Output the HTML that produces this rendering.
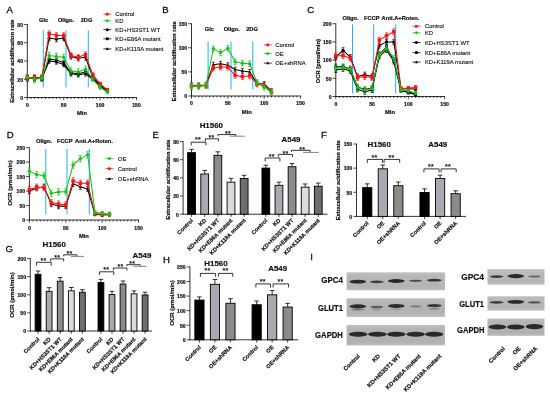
<!DOCTYPE html>
<html lang="en"><head><meta charset="utf-8"><title>Figure</title>
<style>
html,body{margin:0;padding:0;background:#fff;}
body{width:550px;height:396px;overflow:hidden;}
svg{display:block;font-family:"Liberation Sans", Arial, sans-serif;}
svg text{font-family:"Liberation Sans", Arial, sans-serif;}
svg text[font-weight=bold]{stroke:#111;stroke-width:0.2px;}
svg text.pl{stroke:#111;stroke-width:0.3px;}
svg text.lg{stroke:#111;stroke-width:0.12px;}
svg text.st{stroke-width:0.1px;letter-spacing:0.2px;}
</style></head>
<body>
<svg width="550" height="396" viewBox="0 0 550 396">
<defs><filter id="blur" x="-20%" y="-80%" width="140%" height="260%"><feGaussianBlur stdDeviation="0.75"/></filter><linearGradient id="bg" x1="0" y1="0" x2="0" y2="1"><stop offset="0" stop-color="#fff" stop-opacity="0.16"/><stop offset="0.25" stop-color="#fff" stop-opacity="0.05"/><stop offset="0.8" stop-color="#fff" stop-opacity="0"/><stop offset="1" stop-color="#fff" stop-opacity="0.15"/></linearGradient></defs>
<rect x="0" y="0" width="550" height="396" fill="#fff"/>
<text x="6.6" y="13.2" font-size="9.6" font-weight="normal" text-anchor="start" fill="#111" class="pl">A</text>
<line x1="43.3" y1="30.3" x2="43.3" y2="87.4" stroke="#22b2f0" stroke-width="1.0" />
<line x1="66" y1="30.3" x2="66" y2="87.4" stroke="#22b2f0" stroke-width="1.0" />
<line x1="88.3" y1="30.3" x2="88.3" y2="87.4" stroke="#22b2f0" stroke-width="1.0" />
<line x1="27.3" y1="24.06" x2="27.3" y2="97.9" stroke="#000" stroke-width="0.8" />
<line x1="26.9" y1="97.5" x2="136.9" y2="97.5" stroke="#000" stroke-width="0.8" />
<line x1="27.3" y1="97.5" x2="27.3" y2="100.2" stroke="#000" stroke-width="0.7" />
<line x1="30.94" y1="97.5" x2="30.94" y2="99" stroke="#000" stroke-width="0.7" />
<line x1="34.58" y1="97.5" x2="34.58" y2="99" stroke="#000" stroke-width="0.7" />
<line x1="38.22" y1="97.5" x2="38.22" y2="99" stroke="#000" stroke-width="0.7" />
<line x1="41.86" y1="97.5" x2="41.86" y2="99" stroke="#000" stroke-width="0.7" />
<line x1="45.5" y1="97.5" x2="45.5" y2="99" stroke="#000" stroke-width="0.7" />
<line x1="49.14" y1="97.5" x2="49.14" y2="99" stroke="#000" stroke-width="0.7" />
<line x1="52.78" y1="97.5" x2="52.78" y2="99" stroke="#000" stroke-width="0.7" />
<line x1="56.42" y1="97.5" x2="56.42" y2="99" stroke="#000" stroke-width="0.7" />
<line x1="60.06" y1="97.5" x2="60.06" y2="99" stroke="#000" stroke-width="0.7" />
<line x1="63.7" y1="97.5" x2="63.7" y2="100.2" stroke="#000" stroke-width="0.7" />
<line x1="67.34" y1="97.5" x2="67.34" y2="99" stroke="#000" stroke-width="0.7" />
<line x1="70.98" y1="97.5" x2="70.98" y2="99" stroke="#000" stroke-width="0.7" />
<line x1="74.62" y1="97.5" x2="74.62" y2="99" stroke="#000" stroke-width="0.7" />
<line x1="78.26" y1="97.5" x2="78.26" y2="99" stroke="#000" stroke-width="0.7" />
<line x1="81.9" y1="97.5" x2="81.9" y2="99" stroke="#000" stroke-width="0.7" />
<line x1="85.54" y1="97.5" x2="85.54" y2="99" stroke="#000" stroke-width="0.7" />
<line x1="89.18" y1="97.5" x2="89.18" y2="99" stroke="#000" stroke-width="0.7" />
<line x1="92.82" y1="97.5" x2="92.82" y2="99" stroke="#000" stroke-width="0.7" />
<line x1="96.46" y1="97.5" x2="96.46" y2="99" stroke="#000" stroke-width="0.7" />
<line x1="100.1" y1="97.5" x2="100.1" y2="100.2" stroke="#000" stroke-width="0.7" />
<line x1="103.74" y1="97.5" x2="103.74" y2="99" stroke="#000" stroke-width="0.7" />
<line x1="107.38" y1="97.5" x2="107.38" y2="99" stroke="#000" stroke-width="0.7" />
<line x1="111.02" y1="97.5" x2="111.02" y2="99" stroke="#000" stroke-width="0.7" />
<line x1="114.66" y1="97.5" x2="114.66" y2="99" stroke="#000" stroke-width="0.7" />
<line x1="118.3" y1="97.5" x2="118.3" y2="99" stroke="#000" stroke-width="0.7" />
<line x1="121.94" y1="97.5" x2="121.94" y2="99" stroke="#000" stroke-width="0.7" />
<line x1="125.58" y1="97.5" x2="125.58" y2="99" stroke="#000" stroke-width="0.7" />
<line x1="129.22" y1="97.5" x2="129.22" y2="99" stroke="#000" stroke-width="0.7" />
<line x1="132.86" y1="97.5" x2="132.86" y2="99" stroke="#000" stroke-width="0.7" />
<line x1="136.5" y1="97.5" x2="136.5" y2="100.2" stroke="#000" stroke-width="0.7" />
<text x="27.3" y="107" font-size="5.1" font-weight="bold" text-anchor="middle" fill="#111" >0</text>
<text x="63.7" y="107" font-size="5.1" font-weight="bold" text-anchor="middle" fill="#111" >50</text>
<text x="100.1" y="107" font-size="5.1" font-weight="bold" text-anchor="middle" fill="#111" >100</text>
<text x="136.5" y="107" font-size="5.1" font-weight="bold" text-anchor="middle" fill="#111" >150</text>
<line x1="23.9" y1="97.5" x2="27.3" y2="97.5" stroke="#000" stroke-width="0.7" />
<text x="23" y="99.8" font-size="5.1" font-weight="bold" text-anchor="end" fill="#111" >0</text>
<line x1="23.9" y1="79.24" x2="27.3" y2="79.24" stroke="#000" stroke-width="0.7" />
<text x="23" y="81.54" font-size="5.1" font-weight="bold" text-anchor="end" fill="#111" >20</text>
<line x1="23.9" y1="60.98" x2="27.3" y2="60.98" stroke="#000" stroke-width="0.7" />
<text x="23" y="63.28" font-size="5.1" font-weight="bold" text-anchor="end" fill="#111" >40</text>
<line x1="23.9" y1="42.72" x2="27.3" y2="42.72" stroke="#000" stroke-width="0.7" />
<text x="23" y="45.02" font-size="5.1" font-weight="bold" text-anchor="end" fill="#111" >60</text>
<line x1="23.9" y1="24.46" x2="27.3" y2="24.46" stroke="#000" stroke-width="0.7" />
<text x="23" y="26.76" font-size="5.1" font-weight="bold" text-anchor="end" fill="#111" >80</text>
<text x="82" y="115.4" font-size="5.8" font-weight="bold" text-anchor="middle" fill="#111" >Min</text>
<text x="14.1" y="61.25" font-size="5.85" font-weight="bold" text-anchor="middle" fill="#111" transform="rotate(-90 14.1 61.25)" >Extracellular acidification rate</text>
<text x="43.7" y="21.6" font-size="5.7" font-weight="bold" text-anchor="middle" fill="#111" >Glc</text>
<text x="66" y="21.6" font-size="5.7" font-weight="bold" text-anchor="middle" fill="#111" >Oligo.</text>
<text x="86.5" y="21.6" font-size="5.7" font-weight="bold" text-anchor="middle" fill="#111" >2DG</text>
<polyline points="27.3,78.33 34.58,78.33 41.86,78.33 49.14,60.98 56.42,61.89 63.7,64.63 70.98,73.76 78.26,74.67 85.54,73.76 92.82,79.24 100.1,86.54 107.38,91.11" fill="none" stroke="#000" stroke-width="1.05" stroke-linejoin="round"/>
<line x1="27.3" y1="76.04" x2="27.3" y2="80.61" stroke="#000" stroke-width="0.7" />
<line x1="25.9" y1="76.04" x2="28.7" y2="76.04" stroke="#000" stroke-width="0.7" />
<line x1="25.9" y1="80.61" x2="28.7" y2="80.61" stroke="#000" stroke-width="0.7" />
<polygon points="27.3,76.57 28.9,79.61 25.7,79.61" fill="#000"/>
<line x1="34.58" y1="76.04" x2="34.58" y2="80.61" stroke="#000" stroke-width="0.7" />
<line x1="33.18" y1="76.04" x2="35.98" y2="76.04" stroke="#000" stroke-width="0.7" />
<line x1="33.18" y1="80.61" x2="35.98" y2="80.61" stroke="#000" stroke-width="0.7" />
<polygon points="34.58,76.57 36.18,79.61 32.98,79.61" fill="#000"/>
<line x1="41.86" y1="76.04" x2="41.86" y2="80.61" stroke="#000" stroke-width="0.7" />
<line x1="40.46" y1="76.04" x2="43.26" y2="76.04" stroke="#000" stroke-width="0.7" />
<line x1="40.46" y1="80.61" x2="43.26" y2="80.61" stroke="#000" stroke-width="0.7" />
<polygon points="41.86,76.57 43.46,79.61 40.26,79.61" fill="#000"/>
<line x1="49.14" y1="58.7" x2="49.14" y2="63.26" stroke="#000" stroke-width="0.7" />
<line x1="47.74" y1="58.7" x2="50.54" y2="58.7" stroke="#000" stroke-width="0.7" />
<line x1="47.74" y1="63.26" x2="50.54" y2="63.26" stroke="#000" stroke-width="0.7" />
<polygon points="49.14,59.22 50.74,62.26 47.54,62.26" fill="#000"/>
<line x1="56.42" y1="59.61" x2="56.42" y2="64.18" stroke="#000" stroke-width="0.7" />
<line x1="55.02" y1="59.61" x2="57.82" y2="59.61" stroke="#000" stroke-width="0.7" />
<line x1="55.02" y1="64.18" x2="57.82" y2="64.18" stroke="#000" stroke-width="0.7" />
<polygon points="56.42,60.13 58.02,63.17 54.82,63.17" fill="#000"/>
<line x1="63.7" y1="62.35" x2="63.7" y2="66.91" stroke="#000" stroke-width="0.7" />
<line x1="62.3" y1="62.35" x2="65.1" y2="62.35" stroke="#000" stroke-width="0.7" />
<line x1="62.3" y1="66.91" x2="65.1" y2="66.91" stroke="#000" stroke-width="0.7" />
<polygon points="63.7,62.87 65.3,65.91 62.1,65.91" fill="#000"/>
<line x1="70.98" y1="71.48" x2="70.98" y2="76.04" stroke="#000" stroke-width="0.7" />
<line x1="69.58" y1="71.48" x2="72.38" y2="71.48" stroke="#000" stroke-width="0.7" />
<line x1="69.58" y1="76.04" x2="72.38" y2="76.04" stroke="#000" stroke-width="0.7" />
<polygon points="70.98,72 72.58,75.04 69.38,75.04" fill="#000"/>
<line x1="78.26" y1="72.39" x2="78.26" y2="76.96" stroke="#000" stroke-width="0.7" />
<line x1="76.86" y1="72.39" x2="79.66" y2="72.39" stroke="#000" stroke-width="0.7" />
<line x1="76.86" y1="76.96" x2="79.66" y2="76.96" stroke="#000" stroke-width="0.7" />
<polygon points="78.26,72.91 79.86,75.95 76.66,75.95" fill="#000"/>
<line x1="85.54" y1="71.48" x2="85.54" y2="76.04" stroke="#000" stroke-width="0.7" />
<line x1="84.14" y1="71.48" x2="86.94" y2="71.48" stroke="#000" stroke-width="0.7" />
<line x1="84.14" y1="76.04" x2="86.94" y2="76.04" stroke="#000" stroke-width="0.7" />
<polygon points="85.54,72 87.14,75.04 83.94,75.04" fill="#000"/>
<line x1="92.82" y1="77.87" x2="92.82" y2="80.61" stroke="#000" stroke-width="0.7" />
<line x1="91.42" y1="77.87" x2="94.22" y2="77.87" stroke="#000" stroke-width="0.7" />
<line x1="91.42" y1="80.61" x2="94.22" y2="80.61" stroke="#000" stroke-width="0.7" />
<polygon points="92.82,77.48 94.42,80.52 91.22,80.52" fill="#000"/>
<line x1="100.1" y1="85.17" x2="100.1" y2="87.91" stroke="#000" stroke-width="0.7" />
<line x1="98.7" y1="85.17" x2="101.5" y2="85.17" stroke="#000" stroke-width="0.7" />
<line x1="98.7" y1="87.91" x2="101.5" y2="87.91" stroke="#000" stroke-width="0.7" />
<polygon points="100.1,84.78 101.7,87.82 98.5,87.82" fill="#000"/>
<line x1="107.38" y1="89.74" x2="107.38" y2="92.48" stroke="#000" stroke-width="0.7" />
<line x1="105.98" y1="89.74" x2="108.78" y2="89.74" stroke="#000" stroke-width="0.7" />
<line x1="105.98" y1="92.48" x2="108.78" y2="92.48" stroke="#000" stroke-width="0.7" />
<polygon points="107.38,89.35 108.98,92.39 105.78,92.39" fill="#000"/>
<polyline points="27.3,78.33 34.58,78.33 41.86,78.33 49.14,59.15 56.42,60.07 63.7,62.81 70.98,72.85 78.26,73.76 85.54,71.94 92.82,78.33 100.1,85.63 107.38,91.11" fill="none" stroke="#000" stroke-width="1.05" stroke-linejoin="round"/>
<line x1="27.3" y1="76.04" x2="27.3" y2="80.61" stroke="#000" stroke-width="0.7" />
<line x1="25.9" y1="76.04" x2="28.7" y2="76.04" stroke="#000" stroke-width="0.7" />
<line x1="25.9" y1="80.61" x2="28.7" y2="80.61" stroke="#000" stroke-width="0.7" />
<rect x="25.86" y="76.89" width="2.88" height="2.88" fill="#000" stroke="none" stroke-width="0.6" />
<line x1="34.58" y1="76.04" x2="34.58" y2="80.61" stroke="#000" stroke-width="0.7" />
<line x1="33.18" y1="76.04" x2="35.98" y2="76.04" stroke="#000" stroke-width="0.7" />
<line x1="33.18" y1="80.61" x2="35.98" y2="80.61" stroke="#000" stroke-width="0.7" />
<rect x="33.14" y="76.89" width="2.88" height="2.88" fill="#000" stroke="none" stroke-width="0.6" />
<line x1="41.86" y1="76.04" x2="41.86" y2="80.61" stroke="#000" stroke-width="0.7" />
<line x1="40.46" y1="76.04" x2="43.26" y2="76.04" stroke="#000" stroke-width="0.7" />
<line x1="40.46" y1="80.61" x2="43.26" y2="80.61" stroke="#000" stroke-width="0.7" />
<rect x="40.42" y="76.89" width="2.88" height="2.88" fill="#000" stroke="none" stroke-width="0.6" />
<line x1="49.14" y1="56.87" x2="49.14" y2="61.44" stroke="#000" stroke-width="0.7" />
<line x1="47.74" y1="56.87" x2="50.54" y2="56.87" stroke="#000" stroke-width="0.7" />
<line x1="47.74" y1="61.44" x2="50.54" y2="61.44" stroke="#000" stroke-width="0.7" />
<rect x="47.7" y="57.71" width="2.88" height="2.88" fill="#000" stroke="none" stroke-width="0.6" />
<line x1="56.42" y1="57.78" x2="56.42" y2="62.35" stroke="#000" stroke-width="0.7" />
<line x1="55.02" y1="57.78" x2="57.82" y2="57.78" stroke="#000" stroke-width="0.7" />
<line x1="55.02" y1="62.35" x2="57.82" y2="62.35" stroke="#000" stroke-width="0.7" />
<rect x="54.98" y="58.63" width="2.88" height="2.88" fill="#000" stroke="none" stroke-width="0.6" />
<line x1="63.7" y1="60.52" x2="63.7" y2="65.09" stroke="#000" stroke-width="0.7" />
<line x1="62.3" y1="60.52" x2="65.1" y2="60.52" stroke="#000" stroke-width="0.7" />
<line x1="62.3" y1="65.09" x2="65.1" y2="65.09" stroke="#000" stroke-width="0.7" />
<rect x="62.26" y="61.37" width="2.88" height="2.88" fill="#000" stroke="none" stroke-width="0.6" />
<line x1="70.98" y1="70.57" x2="70.98" y2="75.13" stroke="#000" stroke-width="0.7" />
<line x1="69.58" y1="70.57" x2="72.38" y2="70.57" stroke="#000" stroke-width="0.7" />
<line x1="69.58" y1="75.13" x2="72.38" y2="75.13" stroke="#000" stroke-width="0.7" />
<rect x="69.54" y="71.41" width="2.88" height="2.88" fill="#000" stroke="none" stroke-width="0.6" />
<line x1="78.26" y1="71.48" x2="78.26" y2="76.04" stroke="#000" stroke-width="0.7" />
<line x1="76.86" y1="71.48" x2="79.66" y2="71.48" stroke="#000" stroke-width="0.7" />
<line x1="76.86" y1="76.04" x2="79.66" y2="76.04" stroke="#000" stroke-width="0.7" />
<rect x="76.82" y="72.32" width="2.88" height="2.88" fill="#000" stroke="none" stroke-width="0.6" />
<line x1="85.54" y1="69.65" x2="85.54" y2="74.22" stroke="#000" stroke-width="0.7" />
<line x1="84.14" y1="69.65" x2="86.94" y2="69.65" stroke="#000" stroke-width="0.7" />
<line x1="84.14" y1="74.22" x2="86.94" y2="74.22" stroke="#000" stroke-width="0.7" />
<rect x="84.1" y="70.5" width="2.88" height="2.88" fill="#000" stroke="none" stroke-width="0.6" />
<line x1="92.82" y1="76.96" x2="92.82" y2="79.7" stroke="#000" stroke-width="0.7" />
<line x1="91.42" y1="76.96" x2="94.22" y2="76.96" stroke="#000" stroke-width="0.7" />
<line x1="91.42" y1="79.7" x2="94.22" y2="79.7" stroke="#000" stroke-width="0.7" />
<rect x="91.38" y="76.89" width="2.88" height="2.88" fill="#000" stroke="none" stroke-width="0.6" />
<line x1="100.1" y1="84.26" x2="100.1" y2="87" stroke="#000" stroke-width="0.7" />
<line x1="98.7" y1="84.26" x2="101.5" y2="84.26" stroke="#000" stroke-width="0.7" />
<line x1="98.7" y1="87" x2="101.5" y2="87" stroke="#000" stroke-width="0.7" />
<rect x="98.66" y="84.19" width="2.88" height="2.88" fill="#000" stroke="none" stroke-width="0.6" />
<line x1="107.38" y1="89.74" x2="107.38" y2="92.48" stroke="#000" stroke-width="0.7" />
<line x1="105.98" y1="89.74" x2="108.78" y2="89.74" stroke="#000" stroke-width="0.7" />
<line x1="105.98" y1="92.48" x2="108.78" y2="92.48" stroke="#000" stroke-width="0.7" />
<rect x="105.94" y="89.67" width="2.88" height="2.88" fill="#000" stroke="none" stroke-width="0.6" />
<polyline points="27.3,78.33 34.58,78.33 41.86,78.33 49.14,38.16 56.42,39.07 63.7,38.16 70.98,56.41 78.26,58.24 85.54,57.33 92.82,77.41 100.1,84.72 107.38,90.2" fill="none" stroke="#000" stroke-width="1.05" stroke-linejoin="round"/>
<line x1="27.3" y1="75.59" x2="27.3" y2="81.07" stroke="#000" stroke-width="0.7" />
<line x1="25.9" y1="75.59" x2="28.7" y2="75.59" stroke="#000" stroke-width="0.7" />
<line x1="25.9" y1="81.07" x2="28.7" y2="81.07" stroke="#000" stroke-width="0.7" />
<circle cx="27.3" cy="78.33" r="1.6" fill="#000"/>
<line x1="34.58" y1="75.59" x2="34.58" y2="81.07" stroke="#000" stroke-width="0.7" />
<line x1="33.18" y1="75.59" x2="35.98" y2="75.59" stroke="#000" stroke-width="0.7" />
<line x1="33.18" y1="81.07" x2="35.98" y2="81.07" stroke="#000" stroke-width="0.7" />
<circle cx="34.58" cy="78.33" r="1.6" fill="#000"/>
<line x1="41.86" y1="75.59" x2="41.86" y2="81.07" stroke="#000" stroke-width="0.7" />
<line x1="40.46" y1="75.59" x2="43.26" y2="75.59" stroke="#000" stroke-width="0.7" />
<line x1="40.46" y1="81.07" x2="43.26" y2="81.07" stroke="#000" stroke-width="0.7" />
<circle cx="41.86" cy="78.33" r="1.6" fill="#000"/>
<line x1="49.14" y1="35.42" x2="49.14" y2="40.89" stroke="#000" stroke-width="0.7" />
<line x1="47.74" y1="35.42" x2="50.54" y2="35.42" stroke="#000" stroke-width="0.7" />
<line x1="47.74" y1="40.89" x2="50.54" y2="40.89" stroke="#000" stroke-width="0.7" />
<circle cx="49.14" cy="38.16" r="1.6" fill="#000"/>
<line x1="56.42" y1="36.33" x2="56.42" y2="41.81" stroke="#000" stroke-width="0.7" />
<line x1="55.02" y1="36.33" x2="57.82" y2="36.33" stroke="#000" stroke-width="0.7" />
<line x1="55.02" y1="41.81" x2="57.82" y2="41.81" stroke="#000" stroke-width="0.7" />
<circle cx="56.42" cy="39.07" r="1.6" fill="#000"/>
<line x1="63.7" y1="35.42" x2="63.7" y2="40.89" stroke="#000" stroke-width="0.7" />
<line x1="62.3" y1="35.42" x2="65.1" y2="35.42" stroke="#000" stroke-width="0.7" />
<line x1="62.3" y1="40.89" x2="65.1" y2="40.89" stroke="#000" stroke-width="0.7" />
<circle cx="63.7" cy="38.16" r="1.6" fill="#000"/>
<line x1="70.98" y1="53.68" x2="70.98" y2="59.15" stroke="#000" stroke-width="0.7" />
<line x1="69.58" y1="53.68" x2="72.38" y2="53.68" stroke="#000" stroke-width="0.7" />
<line x1="69.58" y1="59.15" x2="72.38" y2="59.15" stroke="#000" stroke-width="0.7" />
<circle cx="70.98" cy="56.41" r="1.6" fill="#000"/>
<line x1="78.26" y1="55.5" x2="78.26" y2="60.98" stroke="#000" stroke-width="0.7" />
<line x1="76.86" y1="55.5" x2="79.66" y2="55.5" stroke="#000" stroke-width="0.7" />
<line x1="76.86" y1="60.98" x2="79.66" y2="60.98" stroke="#000" stroke-width="0.7" />
<circle cx="78.26" cy="58.24" r="1.6" fill="#000"/>
<line x1="85.54" y1="54.59" x2="85.54" y2="60.07" stroke="#000" stroke-width="0.7" />
<line x1="84.14" y1="54.59" x2="86.94" y2="54.59" stroke="#000" stroke-width="0.7" />
<line x1="84.14" y1="60.07" x2="86.94" y2="60.07" stroke="#000" stroke-width="0.7" />
<circle cx="85.54" cy="57.33" r="1.6" fill="#000"/>
<line x1="92.82" y1="75.77" x2="92.82" y2="79.06" stroke="#000" stroke-width="0.7" />
<line x1="91.42" y1="75.77" x2="94.22" y2="75.77" stroke="#000" stroke-width="0.7" />
<line x1="91.42" y1="79.06" x2="94.22" y2="79.06" stroke="#000" stroke-width="0.7" />
<circle cx="92.82" cy="77.41" r="1.6" fill="#000"/>
<line x1="100.1" y1="83.07" x2="100.1" y2="86.36" stroke="#000" stroke-width="0.7" />
<line x1="98.7" y1="83.07" x2="101.5" y2="83.07" stroke="#000" stroke-width="0.7" />
<line x1="98.7" y1="86.36" x2="101.5" y2="86.36" stroke="#000" stroke-width="0.7" />
<circle cx="100.1" cy="84.72" r="1.6" fill="#000"/>
<line x1="107.38" y1="88.55" x2="107.38" y2="91.84" stroke="#000" stroke-width="0.7" />
<line x1="105.98" y1="88.55" x2="108.78" y2="88.55" stroke="#000" stroke-width="0.7" />
<line x1="105.98" y1="91.84" x2="108.78" y2="91.84" stroke="#000" stroke-width="0.7" />
<circle cx="107.38" cy="90.2" r="1.6" fill="#000"/>
<polyline points="27.3,77.41 34.58,77.41 41.86,77.41 49.14,33.59 56.42,35.42 63.7,35.42 70.98,55.5 78.26,57.33 85.54,54.59 92.82,74.67 100.1,83.81 107.38,90.2" fill="none" stroke="#ff1414" stroke-width="1.05" stroke-linejoin="round"/>
<line x1="27.3" y1="74.67" x2="27.3" y2="80.15" stroke="#ff1414" stroke-width="0.7" />
<line x1="25.9" y1="74.67" x2="28.7" y2="74.67" stroke="#ff1414" stroke-width="0.7" />
<line x1="25.9" y1="80.15" x2="28.7" y2="80.15" stroke="#ff1414" stroke-width="0.7" />
<rect x="25.55" y="75.66" width="3.51" height="3.51" fill="#ff1414" stroke="none" stroke-width="0.6" />
<line x1="34.58" y1="74.67" x2="34.58" y2="80.15" stroke="#ff1414" stroke-width="0.7" />
<line x1="33.18" y1="74.67" x2="35.98" y2="74.67" stroke="#ff1414" stroke-width="0.7" />
<line x1="33.18" y1="80.15" x2="35.98" y2="80.15" stroke="#ff1414" stroke-width="0.7" />
<rect x="32.82" y="75.66" width="3.51" height="3.51" fill="#ff1414" stroke="none" stroke-width="0.6" />
<line x1="41.86" y1="74.67" x2="41.86" y2="80.15" stroke="#ff1414" stroke-width="0.7" />
<line x1="40.46" y1="74.67" x2="43.26" y2="74.67" stroke="#ff1414" stroke-width="0.7" />
<line x1="40.46" y1="80.15" x2="43.26" y2="80.15" stroke="#ff1414" stroke-width="0.7" />
<rect x="40.1" y="75.66" width="3.51" height="3.51" fill="#ff1414" stroke="none" stroke-width="0.6" />
<line x1="49.14" y1="30.85" x2="49.14" y2="36.33" stroke="#ff1414" stroke-width="0.7" />
<line x1="47.74" y1="30.85" x2="50.54" y2="30.85" stroke="#ff1414" stroke-width="0.7" />
<line x1="47.74" y1="36.33" x2="50.54" y2="36.33" stroke="#ff1414" stroke-width="0.7" />
<rect x="47.38" y="31.83" width="3.51" height="3.51" fill="#ff1414" stroke="none" stroke-width="0.6" />
<line x1="56.42" y1="32.68" x2="56.42" y2="38.15" stroke="#ff1414" stroke-width="0.7" />
<line x1="55.02" y1="32.68" x2="57.82" y2="32.68" stroke="#ff1414" stroke-width="0.7" />
<line x1="55.02" y1="38.15" x2="57.82" y2="38.15" stroke="#ff1414" stroke-width="0.7" />
<rect x="54.66" y="33.66" width="3.51" height="3.51" fill="#ff1414" stroke="none" stroke-width="0.6" />
<line x1="63.7" y1="32.68" x2="63.7" y2="38.15" stroke="#ff1414" stroke-width="0.7" />
<line x1="62.3" y1="32.68" x2="65.1" y2="32.68" stroke="#ff1414" stroke-width="0.7" />
<line x1="62.3" y1="38.15" x2="65.1" y2="38.15" stroke="#ff1414" stroke-width="0.7" />
<rect x="61.95" y="33.66" width="3.51" height="3.51" fill="#ff1414" stroke="none" stroke-width="0.6" />
<line x1="70.98" y1="52.76" x2="70.98" y2="58.24" stroke="#ff1414" stroke-width="0.7" />
<line x1="69.58" y1="52.76" x2="72.38" y2="52.76" stroke="#ff1414" stroke-width="0.7" />
<line x1="69.58" y1="58.24" x2="72.38" y2="58.24" stroke="#ff1414" stroke-width="0.7" />
<rect x="69.23" y="53.75" width="3.51" height="3.51" fill="#ff1414" stroke="none" stroke-width="0.6" />
<line x1="78.26" y1="54.59" x2="78.26" y2="60.07" stroke="#ff1414" stroke-width="0.7" />
<line x1="76.86" y1="54.59" x2="79.66" y2="54.59" stroke="#ff1414" stroke-width="0.7" />
<line x1="76.86" y1="60.07" x2="79.66" y2="60.07" stroke="#ff1414" stroke-width="0.7" />
<rect x="76.51" y="55.57" width="3.51" height="3.51" fill="#ff1414" stroke="none" stroke-width="0.6" />
<line x1="85.54" y1="51.85" x2="85.54" y2="57.33" stroke="#ff1414" stroke-width="0.7" />
<line x1="84.14" y1="51.85" x2="86.94" y2="51.85" stroke="#ff1414" stroke-width="0.7" />
<line x1="84.14" y1="57.33" x2="86.94" y2="57.33" stroke="#ff1414" stroke-width="0.7" />
<rect x="83.78" y="52.83" width="3.51" height="3.51" fill="#ff1414" stroke="none" stroke-width="0.6" />
<line x1="92.82" y1="73.03" x2="92.82" y2="76.32" stroke="#ff1414" stroke-width="0.7" />
<line x1="91.42" y1="73.03" x2="94.22" y2="73.03" stroke="#ff1414" stroke-width="0.7" />
<line x1="91.42" y1="76.32" x2="94.22" y2="76.32" stroke="#ff1414" stroke-width="0.7" />
<rect x="91.06" y="72.92" width="3.51" height="3.51" fill="#ff1414" stroke="none" stroke-width="0.6" />
<line x1="100.1" y1="82.16" x2="100.1" y2="85.45" stroke="#ff1414" stroke-width="0.7" />
<line x1="98.7" y1="82.16" x2="101.5" y2="82.16" stroke="#ff1414" stroke-width="0.7" />
<line x1="98.7" y1="85.45" x2="101.5" y2="85.45" stroke="#ff1414" stroke-width="0.7" />
<rect x="98.34" y="82.05" width="3.51" height="3.51" fill="#ff1414" stroke="none" stroke-width="0.6" />
<line x1="107.38" y1="88.55" x2="107.38" y2="91.84" stroke="#ff1414" stroke-width="0.7" />
<line x1="105.98" y1="88.55" x2="108.78" y2="88.55" stroke="#ff1414" stroke-width="0.7" />
<line x1="105.98" y1="91.84" x2="108.78" y2="91.84" stroke="#ff1414" stroke-width="0.7" />
<rect x="105.62" y="88.44" width="3.51" height="3.51" fill="#ff1414" stroke="none" stroke-width="0.6" />
<polyline points="27.3,77.41 34.58,79.24 41.86,78.33 49.14,55.5 56.42,56.41 63.7,57.33 70.98,71.02 78.26,71.94 85.54,69.2 92.82,79.24 100.1,87.46 107.38,92.02" fill="none" stroke="#19c219" stroke-width="1.05" stroke-linejoin="round"/>
<line x1="27.3" y1="74.22" x2="27.3" y2="80.61" stroke="#19c219" stroke-width="0.7" />
<line x1="25.9" y1="74.22" x2="28.7" y2="74.22" stroke="#19c219" stroke-width="0.7" />
<line x1="25.9" y1="80.61" x2="28.7" y2="80.61" stroke="#19c219" stroke-width="0.7" />
<polygon points="27.3,75.31 29.4,77.41 27.3,79.51 25.2,77.41" fill="#19c219"/>
<line x1="34.58" y1="76.04" x2="34.58" y2="82.44" stroke="#19c219" stroke-width="0.7" />
<line x1="33.18" y1="76.04" x2="35.98" y2="76.04" stroke="#19c219" stroke-width="0.7" />
<line x1="33.18" y1="82.44" x2="35.98" y2="82.44" stroke="#19c219" stroke-width="0.7" />
<polygon points="34.58,77.14 36.68,79.24 34.58,81.34 32.48,79.24" fill="#19c219"/>
<line x1="41.86" y1="75.13" x2="41.86" y2="81.52" stroke="#19c219" stroke-width="0.7" />
<line x1="40.46" y1="75.13" x2="43.26" y2="75.13" stroke="#19c219" stroke-width="0.7" />
<line x1="40.46" y1="81.52" x2="43.26" y2="81.52" stroke="#19c219" stroke-width="0.7" />
<polygon points="41.86,76.23 43.96,78.33 41.86,80.43 39.76,78.33" fill="#19c219"/>
<line x1="49.14" y1="52.31" x2="49.14" y2="58.7" stroke="#19c219" stroke-width="0.7" />
<line x1="47.74" y1="52.31" x2="50.54" y2="52.31" stroke="#19c219" stroke-width="0.7" />
<line x1="47.74" y1="58.7" x2="50.54" y2="58.7" stroke="#19c219" stroke-width="0.7" />
<polygon points="49.14,53.4 51.24,55.5 49.14,57.6 47.04,55.5" fill="#19c219"/>
<line x1="56.42" y1="53.22" x2="56.42" y2="59.61" stroke="#19c219" stroke-width="0.7" />
<line x1="55.02" y1="53.22" x2="57.82" y2="53.22" stroke="#19c219" stroke-width="0.7" />
<line x1="55.02" y1="59.61" x2="57.82" y2="59.61" stroke="#19c219" stroke-width="0.7" />
<polygon points="56.42,54.31 58.52,56.41 56.42,58.52 54.32,56.41" fill="#19c219"/>
<line x1="63.7" y1="54.13" x2="63.7" y2="60.52" stroke="#19c219" stroke-width="0.7" />
<line x1="62.3" y1="54.13" x2="65.1" y2="54.13" stroke="#19c219" stroke-width="0.7" />
<line x1="62.3" y1="60.52" x2="65.1" y2="60.52" stroke="#19c219" stroke-width="0.7" />
<polygon points="63.7,55.23 65.8,57.33 63.7,59.43 61.6,57.33" fill="#19c219"/>
<line x1="70.98" y1="67.83" x2="70.98" y2="74.22" stroke="#19c219" stroke-width="0.7" />
<line x1="69.58" y1="67.83" x2="72.38" y2="67.83" stroke="#19c219" stroke-width="0.7" />
<line x1="69.58" y1="74.22" x2="72.38" y2="74.22" stroke="#19c219" stroke-width="0.7" />
<polygon points="70.98,68.92 73.08,71.02 70.98,73.12 68.88,71.02" fill="#19c219"/>
<line x1="78.26" y1="68.74" x2="78.26" y2="75.13" stroke="#19c219" stroke-width="0.7" />
<line x1="76.86" y1="68.74" x2="79.66" y2="68.74" stroke="#19c219" stroke-width="0.7" />
<line x1="76.86" y1="75.13" x2="79.66" y2="75.13" stroke="#19c219" stroke-width="0.7" />
<polygon points="78.26,69.84 80.36,71.94 78.26,74.04 76.16,71.94" fill="#19c219"/>
<line x1="85.54" y1="66" x2="85.54" y2="72.39" stroke="#19c219" stroke-width="0.7" />
<line x1="84.14" y1="66" x2="86.94" y2="66" stroke="#19c219" stroke-width="0.7" />
<line x1="84.14" y1="72.39" x2="86.94" y2="72.39" stroke="#19c219" stroke-width="0.7" />
<polygon points="85.54,67.1 87.64,69.2 85.54,71.3 83.44,69.2" fill="#19c219"/>
<line x1="92.82" y1="77.32" x2="92.82" y2="81.16" stroke="#19c219" stroke-width="0.7" />
<line x1="91.42" y1="77.32" x2="94.22" y2="77.32" stroke="#19c219" stroke-width="0.7" />
<line x1="91.42" y1="81.16" x2="94.22" y2="81.16" stroke="#19c219" stroke-width="0.7" />
<polygon points="92.82,77.14 94.92,79.24 92.82,81.34 90.72,79.24" fill="#19c219"/>
<line x1="100.1" y1="85.54" x2="100.1" y2="89.37" stroke="#19c219" stroke-width="0.7" />
<line x1="98.7" y1="85.54" x2="101.5" y2="85.54" stroke="#19c219" stroke-width="0.7" />
<line x1="98.7" y1="89.37" x2="101.5" y2="89.37" stroke="#19c219" stroke-width="0.7" />
<polygon points="100.1,85.36 102.2,87.46 100.1,89.56 98,87.46" fill="#19c219"/>
<line x1="107.38" y1="90.1" x2="107.38" y2="93.94" stroke="#19c219" stroke-width="0.7" />
<line x1="105.98" y1="90.1" x2="108.78" y2="90.1" stroke="#19c219" stroke-width="0.7" />
<line x1="105.98" y1="93.94" x2="108.78" y2="93.94" stroke="#19c219" stroke-width="0.7" />
<polygon points="107.38,89.92 109.48,92.02 107.38,94.12 105.28,92.02" fill="#19c219"/>
<line x1="103.4" y1="14.2" x2="111.4" y2="14.2" stroke="#ff1414" stroke-width="0.8" />
<rect x="105.95" y="12.85" width="2.7" height="2.7" fill="#ff1414" stroke="none" stroke-width="0.6" />
<text x="115.3" y="16.3" font-size="5.9" font-weight="normal" text-anchor="start" fill="#111" class="lg">Control</text>
<line x1="103.4" y1="20.8" x2="111.4" y2="20.8" stroke="#19c219" stroke-width="0.8" />
<polygon points="107.3,19 109.1,20.8 107.3,22.6 105.5,20.8" fill="#19c219"/>
<text x="115.3" y="22.9" font-size="5.9" font-weight="normal" text-anchor="start" fill="#111" class="lg">KD</text>
<line x1="103.4" y1="29.7" x2="111.4" y2="29.7" stroke="#000" stroke-width="0.8" />
<circle cx="107.3" cy="29.7" r="1.5" fill="#000"/>
<text x="115.3" y="31.8" font-size="5.9" font-weight="normal" text-anchor="start" fill="#111" class="lg">KD+HS3ST1 WT</text>
<line x1="103.4" y1="38.8" x2="111.4" y2="38.8" stroke="#000" stroke-width="0.8" />
<rect x="105.95" y="37.45" width="2.7" height="2.7" fill="#000" stroke="none" stroke-width="0.6" />
<text x="115.3" y="40.9" font-size="5.9" font-weight="normal" text-anchor="start" fill="#111" class="lg">KD+E86A mutant</text>
<line x1="103.4" y1="48.9" x2="111.4" y2="48.9" stroke="#000" stroke-width="0.8" />
<polygon points="107.3,47.25 108.8,50.1 105.8,50.1" fill="#000"/>
<text x="115.3" y="51" font-size="5.9" font-weight="normal" text-anchor="start" fill="#111" class="lg">KD+K119A mutant</text>
<text x="162.2" y="12.6" font-size="9.6" font-weight="normal" text-anchor="start" fill="#111" class="pl">B</text>
<line x1="208.1" y1="41.5" x2="208.1" y2="89.4" stroke="#22b2f0" stroke-width="1.0" />
<line x1="231" y1="41.5" x2="231" y2="89.4" stroke="#22b2f0" stroke-width="1.0" />
<line x1="252.8" y1="41.5" x2="252.8" y2="89.4" stroke="#22b2f0" stroke-width="1.0" />
<line x1="191.5" y1="23.3" x2="191.5" y2="96.4" stroke="#000" stroke-width="0.8" />
<line x1="191.1" y1="96" x2="300.95" y2="96" stroke="#000" stroke-width="0.8" />
<line x1="191.5" y1="96" x2="191.5" y2="98.7" stroke="#000" stroke-width="0.7" />
<line x1="195.13" y1="96" x2="195.13" y2="97.5" stroke="#000" stroke-width="0.7" />
<line x1="198.77" y1="96" x2="198.77" y2="97.5" stroke="#000" stroke-width="0.7" />
<line x1="202.41" y1="96" x2="202.41" y2="97.5" stroke="#000" stroke-width="0.7" />
<line x1="206.04" y1="96" x2="206.04" y2="97.5" stroke="#000" stroke-width="0.7" />
<line x1="209.68" y1="96" x2="209.68" y2="97.5" stroke="#000" stroke-width="0.7" />
<line x1="213.31" y1="96" x2="213.31" y2="97.5" stroke="#000" stroke-width="0.7" />
<line x1="216.94" y1="96" x2="216.94" y2="97.5" stroke="#000" stroke-width="0.7" />
<line x1="220.58" y1="96" x2="220.58" y2="97.5" stroke="#000" stroke-width="0.7" />
<line x1="224.22" y1="96" x2="224.22" y2="97.5" stroke="#000" stroke-width="0.7" />
<line x1="227.85" y1="96" x2="227.85" y2="98.7" stroke="#000" stroke-width="0.7" />
<line x1="231.49" y1="96" x2="231.49" y2="97.5" stroke="#000" stroke-width="0.7" />
<line x1="235.12" y1="96" x2="235.12" y2="97.5" stroke="#000" stroke-width="0.7" />
<line x1="238.75" y1="96" x2="238.75" y2="97.5" stroke="#000" stroke-width="0.7" />
<line x1="242.39" y1="96" x2="242.39" y2="97.5" stroke="#000" stroke-width="0.7" />
<line x1="246.03" y1="96" x2="246.03" y2="97.5" stroke="#000" stroke-width="0.7" />
<line x1="249.66" y1="96" x2="249.66" y2="97.5" stroke="#000" stroke-width="0.7" />
<line x1="253.3" y1="96" x2="253.3" y2="97.5" stroke="#000" stroke-width="0.7" />
<line x1="256.93" y1="96" x2="256.93" y2="97.5" stroke="#000" stroke-width="0.7" />
<line x1="260.56" y1="96" x2="260.56" y2="97.5" stroke="#000" stroke-width="0.7" />
<line x1="264.2" y1="96" x2="264.2" y2="98.7" stroke="#000" stroke-width="0.7" />
<line x1="267.83" y1="96" x2="267.83" y2="97.5" stroke="#000" stroke-width="0.7" />
<line x1="271.47" y1="96" x2="271.47" y2="97.5" stroke="#000" stroke-width="0.7" />
<line x1="275.11" y1="96" x2="275.11" y2="97.5" stroke="#000" stroke-width="0.7" />
<line x1="278.74" y1="96" x2="278.74" y2="97.5" stroke="#000" stroke-width="0.7" />
<line x1="282.38" y1="96" x2="282.38" y2="97.5" stroke="#000" stroke-width="0.7" />
<line x1="286.01" y1="96" x2="286.01" y2="97.5" stroke="#000" stroke-width="0.7" />
<line x1="289.64" y1="96" x2="289.64" y2="97.5" stroke="#000" stroke-width="0.7" />
<line x1="293.28" y1="96" x2="293.28" y2="97.5" stroke="#000" stroke-width="0.7" />
<line x1="296.91" y1="96" x2="296.91" y2="97.5" stroke="#000" stroke-width="0.7" />
<line x1="300.55" y1="96" x2="300.55" y2="98.7" stroke="#000" stroke-width="0.7" />
<text x="191.5" y="105.2" font-size="5.1" font-weight="bold" text-anchor="middle" fill="#111" >0</text>
<text x="227.85" y="105.2" font-size="5.1" font-weight="bold" text-anchor="middle" fill="#111" >50</text>
<text x="264.2" y="105.2" font-size="5.1" font-weight="bold" text-anchor="middle" fill="#111" >100</text>
<text x="300.55" y="105.2" font-size="5.1" font-weight="bold" text-anchor="middle" fill="#111" >150</text>
<line x1="188.1" y1="96" x2="191.5" y2="96" stroke="#000" stroke-width="0.7" />
<text x="187.2" y="98.3" font-size="5.1" font-weight="bold" text-anchor="end" fill="#111" >0</text>
<line x1="188.1" y1="71.9" x2="191.5" y2="71.9" stroke="#000" stroke-width="0.7" />
<text x="187.2" y="74.2" font-size="5.1" font-weight="bold" text-anchor="end" fill="#111" >50</text>
<line x1="188.1" y1="47.8" x2="191.5" y2="47.8" stroke="#000" stroke-width="0.7" />
<text x="187.2" y="50.1" font-size="5.1" font-weight="bold" text-anchor="end" fill="#111" >100</text>
<line x1="188.1" y1="23.7" x2="191.5" y2="23.7" stroke="#000" stroke-width="0.7" />
<text x="187.2" y="26" font-size="5.1" font-weight="bold" text-anchor="end" fill="#111" >150</text>
<text x="246.8" y="113.8" font-size="5.8" font-weight="bold" text-anchor="middle" fill="#111" >Min</text>
<text x="176.4" y="61.4" font-size="5.62" font-weight="bold" text-anchor="middle" fill="#111" transform="rotate(-90 176.4 61.4)" >Extracellular acidification rate</text>
<text x="209.4" y="31.4" font-size="5.7" font-weight="bold" text-anchor="middle" fill="#111" >Glc</text>
<text x="231.7" y="31.4" font-size="5.7" font-weight="bold" text-anchor="middle" fill="#111" >Oligo.</text>
<text x="252" y="31.4" font-size="5.7" font-weight="bold" text-anchor="middle" fill="#111" >2DG</text>
<polyline points="191.5,85.4 198.77,85.4 206.04,84.91 213.31,64.67 220.58,63.71 227.85,65.15 235.12,69.49 242.39,70.94 249.66,71.9 256.93,83.47 264.2,83.95 271.47,91.18" fill="none" stroke="#000" stroke-width="1.05" stroke-linejoin="round"/>
<line x1="191.5" y1="82.99" x2="191.5" y2="87.81" stroke="#000" stroke-width="0.7" />
<line x1="190.1" y1="82.99" x2="192.9" y2="82.99" stroke="#000" stroke-width="0.7" />
<line x1="190.1" y1="87.81" x2="192.9" y2="87.81" stroke="#000" stroke-width="0.7" />
<polygon points="191.5,83.64 193.1,86.68 189.9,86.68" fill="#000"/>
<line x1="198.77" y1="82.99" x2="198.77" y2="87.81" stroke="#000" stroke-width="0.7" />
<line x1="197.37" y1="82.99" x2="200.17" y2="82.99" stroke="#000" stroke-width="0.7" />
<line x1="197.37" y1="87.81" x2="200.17" y2="87.81" stroke="#000" stroke-width="0.7" />
<polygon points="198.77,83.64 200.37,86.68 197.17,86.68" fill="#000"/>
<line x1="206.04" y1="82.5" x2="206.04" y2="87.32" stroke="#000" stroke-width="0.7" />
<line x1="204.64" y1="82.5" x2="207.44" y2="82.5" stroke="#000" stroke-width="0.7" />
<line x1="204.64" y1="87.32" x2="207.44" y2="87.32" stroke="#000" stroke-width="0.7" />
<polygon points="206.04,83.15 207.64,86.19 204.44,86.19" fill="#000"/>
<line x1="213.31" y1="62.26" x2="213.31" y2="67.08" stroke="#000" stroke-width="0.7" />
<line x1="211.91" y1="62.26" x2="214.71" y2="62.26" stroke="#000" stroke-width="0.7" />
<line x1="211.91" y1="67.08" x2="214.71" y2="67.08" stroke="#000" stroke-width="0.7" />
<polygon points="213.31,62.91 214.91,65.95 211.71,65.95" fill="#000"/>
<line x1="220.58" y1="61.3" x2="220.58" y2="66.12" stroke="#000" stroke-width="0.7" />
<line x1="219.18" y1="61.3" x2="221.98" y2="61.3" stroke="#000" stroke-width="0.7" />
<line x1="219.18" y1="66.12" x2="221.98" y2="66.12" stroke="#000" stroke-width="0.7" />
<polygon points="220.58,61.95 222.18,64.99 218.98,64.99" fill="#000"/>
<line x1="227.85" y1="62.74" x2="227.85" y2="67.56" stroke="#000" stroke-width="0.7" />
<line x1="226.45" y1="62.74" x2="229.25" y2="62.74" stroke="#000" stroke-width="0.7" />
<line x1="226.45" y1="67.56" x2="229.25" y2="67.56" stroke="#000" stroke-width="0.7" />
<polygon points="227.85,63.39 229.45,66.43 226.25,66.43" fill="#000"/>
<line x1="235.12" y1="67.08" x2="235.12" y2="71.9" stroke="#000" stroke-width="0.7" />
<line x1="233.72" y1="67.08" x2="236.52" y2="67.08" stroke="#000" stroke-width="0.7" />
<line x1="233.72" y1="71.9" x2="236.52" y2="71.9" stroke="#000" stroke-width="0.7" />
<polygon points="235.12,67.73 236.72,70.77 233.52,70.77" fill="#000"/>
<line x1="242.39" y1="68.53" x2="242.39" y2="73.35" stroke="#000" stroke-width="0.7" />
<line x1="240.99" y1="68.53" x2="243.79" y2="68.53" stroke="#000" stroke-width="0.7" />
<line x1="240.99" y1="73.35" x2="243.79" y2="73.35" stroke="#000" stroke-width="0.7" />
<polygon points="242.39,69.18 243.99,72.22 240.79,72.22" fill="#000"/>
<line x1="249.66" y1="69.49" x2="249.66" y2="74.31" stroke="#000" stroke-width="0.7" />
<line x1="248.26" y1="69.49" x2="251.06" y2="69.49" stroke="#000" stroke-width="0.7" />
<line x1="248.26" y1="74.31" x2="251.06" y2="74.31" stroke="#000" stroke-width="0.7" />
<polygon points="249.66,70.14 251.26,73.18 248.06,73.18" fill="#000"/>
<line x1="256.93" y1="81.06" x2="256.93" y2="85.88" stroke="#000" stroke-width="0.7" />
<line x1="255.53" y1="81.06" x2="258.33" y2="81.06" stroke="#000" stroke-width="0.7" />
<line x1="255.53" y1="85.88" x2="258.33" y2="85.88" stroke="#000" stroke-width="0.7" />
<polygon points="256.93,81.71 258.53,84.75 255.33,84.75" fill="#000"/>
<line x1="264.2" y1="81.54" x2="264.2" y2="86.36" stroke="#000" stroke-width="0.7" />
<line x1="262.8" y1="81.54" x2="265.6" y2="81.54" stroke="#000" stroke-width="0.7" />
<line x1="262.8" y1="86.36" x2="265.6" y2="86.36" stroke="#000" stroke-width="0.7" />
<polygon points="264.2,82.19 265.8,85.23 262.6,85.23" fill="#000"/>
<line x1="271.47" y1="88.77" x2="271.47" y2="93.59" stroke="#000" stroke-width="0.7" />
<line x1="270.07" y1="88.77" x2="272.87" y2="88.77" stroke="#000" stroke-width="0.7" />
<line x1="270.07" y1="93.59" x2="272.87" y2="93.59" stroke="#000" stroke-width="0.7" />
<polygon points="271.47,89.42 273.07,92.46 269.87,92.46" fill="#000"/>
<polyline points="191.5,85.88 198.77,85.88 206.04,85.4 213.31,68.04 220.58,67.08 227.85,67.08 235.12,75.27 242.39,76.72 249.66,75.76 256.93,83.95 264.2,85.4 271.47,92.14" fill="none" stroke="#ff1414" stroke-width="1.05" stroke-linejoin="round"/>
<line x1="191.5" y1="82.99" x2="191.5" y2="88.77" stroke="#ff1414" stroke-width="0.7" />
<line x1="190.1" y1="82.99" x2="192.9" y2="82.99" stroke="#ff1414" stroke-width="0.7" />
<line x1="190.1" y1="88.77" x2="192.9" y2="88.77" stroke="#ff1414" stroke-width="0.7" />
<rect x="189.75" y="84.12" width="3.51" height="3.51" fill="#ff1414" stroke="none" stroke-width="0.6" />
<line x1="198.77" y1="82.99" x2="198.77" y2="88.77" stroke="#ff1414" stroke-width="0.7" />
<line x1="197.37" y1="82.99" x2="200.17" y2="82.99" stroke="#ff1414" stroke-width="0.7" />
<line x1="197.37" y1="88.77" x2="200.17" y2="88.77" stroke="#ff1414" stroke-width="0.7" />
<rect x="197.02" y="84.12" width="3.51" height="3.51" fill="#ff1414" stroke="none" stroke-width="0.6" />
<line x1="206.04" y1="82.5" x2="206.04" y2="88.29" stroke="#ff1414" stroke-width="0.7" />
<line x1="204.64" y1="82.5" x2="207.44" y2="82.5" stroke="#ff1414" stroke-width="0.7" />
<line x1="204.64" y1="88.29" x2="207.44" y2="88.29" stroke="#ff1414" stroke-width="0.7" />
<rect x="204.28" y="83.64" width="3.51" height="3.51" fill="#ff1414" stroke="none" stroke-width="0.6" />
<line x1="213.31" y1="65.15" x2="213.31" y2="70.94" stroke="#ff1414" stroke-width="0.7" />
<line x1="211.91" y1="65.15" x2="214.71" y2="65.15" stroke="#ff1414" stroke-width="0.7" />
<line x1="211.91" y1="70.94" x2="214.71" y2="70.94" stroke="#ff1414" stroke-width="0.7" />
<rect x="211.56" y="66.29" width="3.51" height="3.51" fill="#ff1414" stroke="none" stroke-width="0.6" />
<line x1="220.58" y1="64.19" x2="220.58" y2="69.97" stroke="#ff1414" stroke-width="0.7" />
<line x1="219.18" y1="64.19" x2="221.98" y2="64.19" stroke="#ff1414" stroke-width="0.7" />
<line x1="219.18" y1="69.97" x2="221.98" y2="69.97" stroke="#ff1414" stroke-width="0.7" />
<rect x="218.82" y="65.33" width="3.51" height="3.51" fill="#ff1414" stroke="none" stroke-width="0.6" />
<line x1="227.85" y1="64.19" x2="227.85" y2="69.97" stroke="#ff1414" stroke-width="0.7" />
<line x1="226.45" y1="64.19" x2="229.25" y2="64.19" stroke="#ff1414" stroke-width="0.7" />
<line x1="226.45" y1="69.97" x2="229.25" y2="69.97" stroke="#ff1414" stroke-width="0.7" />
<rect x="226.09" y="65.33" width="3.51" height="3.51" fill="#ff1414" stroke="none" stroke-width="0.6" />
<line x1="235.12" y1="72.38" x2="235.12" y2="78.17" stroke="#ff1414" stroke-width="0.7" />
<line x1="233.72" y1="72.38" x2="236.52" y2="72.38" stroke="#ff1414" stroke-width="0.7" />
<line x1="233.72" y1="78.17" x2="236.52" y2="78.17" stroke="#ff1414" stroke-width="0.7" />
<rect x="233.37" y="73.52" width="3.51" height="3.51" fill="#ff1414" stroke="none" stroke-width="0.6" />
<line x1="242.39" y1="73.83" x2="242.39" y2="79.61" stroke="#ff1414" stroke-width="0.7" />
<line x1="240.99" y1="73.83" x2="243.79" y2="73.83" stroke="#ff1414" stroke-width="0.7" />
<line x1="240.99" y1="79.61" x2="243.79" y2="79.61" stroke="#ff1414" stroke-width="0.7" />
<rect x="240.63" y="74.97" width="3.51" height="3.51" fill="#ff1414" stroke="none" stroke-width="0.6" />
<line x1="249.66" y1="72.86" x2="249.66" y2="78.65" stroke="#ff1414" stroke-width="0.7" />
<line x1="248.26" y1="72.86" x2="251.06" y2="72.86" stroke="#ff1414" stroke-width="0.7" />
<line x1="248.26" y1="78.65" x2="251.06" y2="78.65" stroke="#ff1414" stroke-width="0.7" />
<rect x="247.91" y="74" width="3.51" height="3.51" fill="#ff1414" stroke="none" stroke-width="0.6" />
<line x1="256.93" y1="81.06" x2="256.93" y2="86.84" stroke="#ff1414" stroke-width="0.7" />
<line x1="255.53" y1="81.06" x2="258.33" y2="81.06" stroke="#ff1414" stroke-width="0.7" />
<line x1="255.53" y1="86.84" x2="258.33" y2="86.84" stroke="#ff1414" stroke-width="0.7" />
<rect x="255.18" y="82.2" width="3.51" height="3.51" fill="#ff1414" stroke="none" stroke-width="0.6" />
<line x1="264.2" y1="82.5" x2="264.2" y2="88.29" stroke="#ff1414" stroke-width="0.7" />
<line x1="262.8" y1="82.5" x2="265.6" y2="82.5" stroke="#ff1414" stroke-width="0.7" />
<line x1="262.8" y1="88.29" x2="265.6" y2="88.29" stroke="#ff1414" stroke-width="0.7" />
<rect x="262.44" y="83.64" width="3.51" height="3.51" fill="#ff1414" stroke="none" stroke-width="0.6" />
<line x1="271.47" y1="89.25" x2="271.47" y2="95.04" stroke="#ff1414" stroke-width="0.7" />
<line x1="270.07" y1="89.25" x2="272.87" y2="89.25" stroke="#ff1414" stroke-width="0.7" />
<line x1="270.07" y1="95.04" x2="272.87" y2="95.04" stroke="#ff1414" stroke-width="0.7" />
<rect x="269.72" y="90.39" width="3.51" height="3.51" fill="#ff1414" stroke="none" stroke-width="0.6" />
<polyline points="191.5,86.36 198.77,86.36 206.04,85.4 213.31,48.76 220.58,52.62 227.85,48.28 235.12,61.78 242.39,63.22 249.66,63.71 256.93,82.5 264.2,87.32 271.47,92.14" fill="none" stroke="#19c219" stroke-width="1.05" stroke-linejoin="round"/>
<line x1="191.5" y1="83.47" x2="191.5" y2="89.25" stroke="#19c219" stroke-width="0.7" />
<line x1="190.1" y1="83.47" x2="192.9" y2="83.47" stroke="#19c219" stroke-width="0.7" />
<line x1="190.1" y1="89.25" x2="192.9" y2="89.25" stroke="#19c219" stroke-width="0.7" />
<circle cx="191.5" cy="86.36" r="1.75" fill="#19c219"/>
<line x1="198.77" y1="83.47" x2="198.77" y2="89.25" stroke="#19c219" stroke-width="0.7" />
<line x1="197.37" y1="83.47" x2="200.17" y2="83.47" stroke="#19c219" stroke-width="0.7" />
<line x1="197.37" y1="89.25" x2="200.17" y2="89.25" stroke="#19c219" stroke-width="0.7" />
<circle cx="198.77" cy="86.36" r="1.75" fill="#19c219"/>
<line x1="206.04" y1="82.5" x2="206.04" y2="88.29" stroke="#19c219" stroke-width="0.7" />
<line x1="204.64" y1="82.5" x2="207.44" y2="82.5" stroke="#19c219" stroke-width="0.7" />
<line x1="204.64" y1="88.29" x2="207.44" y2="88.29" stroke="#19c219" stroke-width="0.7" />
<circle cx="206.04" cy="85.4" r="1.75" fill="#19c219"/>
<line x1="213.31" y1="45.87" x2="213.31" y2="51.66" stroke="#19c219" stroke-width="0.7" />
<line x1="211.91" y1="45.87" x2="214.71" y2="45.87" stroke="#19c219" stroke-width="0.7" />
<line x1="211.91" y1="51.66" x2="214.71" y2="51.66" stroke="#19c219" stroke-width="0.7" />
<circle cx="213.31" cy="48.76" r="1.75" fill="#19c219"/>
<line x1="220.58" y1="49.73" x2="220.58" y2="55.51" stroke="#19c219" stroke-width="0.7" />
<line x1="219.18" y1="49.73" x2="221.98" y2="49.73" stroke="#19c219" stroke-width="0.7" />
<line x1="219.18" y1="55.51" x2="221.98" y2="55.51" stroke="#19c219" stroke-width="0.7" />
<circle cx="220.58" cy="52.62" r="1.75" fill="#19c219"/>
<line x1="227.85" y1="45.39" x2="227.85" y2="51.17" stroke="#19c219" stroke-width="0.7" />
<line x1="226.45" y1="45.39" x2="229.25" y2="45.39" stroke="#19c219" stroke-width="0.7" />
<line x1="226.45" y1="51.17" x2="229.25" y2="51.17" stroke="#19c219" stroke-width="0.7" />
<circle cx="227.85" cy="48.28" r="1.75" fill="#19c219"/>
<line x1="235.12" y1="58.89" x2="235.12" y2="64.67" stroke="#19c219" stroke-width="0.7" />
<line x1="233.72" y1="58.89" x2="236.52" y2="58.89" stroke="#19c219" stroke-width="0.7" />
<line x1="233.72" y1="64.67" x2="236.52" y2="64.67" stroke="#19c219" stroke-width="0.7" />
<circle cx="235.12" cy="61.78" r="1.75" fill="#19c219"/>
<line x1="242.39" y1="60.33" x2="242.39" y2="66.12" stroke="#19c219" stroke-width="0.7" />
<line x1="240.99" y1="60.33" x2="243.79" y2="60.33" stroke="#19c219" stroke-width="0.7" />
<line x1="240.99" y1="66.12" x2="243.79" y2="66.12" stroke="#19c219" stroke-width="0.7" />
<circle cx="242.39" cy="63.22" r="1.75" fill="#19c219"/>
<line x1="249.66" y1="60.81" x2="249.66" y2="66.6" stroke="#19c219" stroke-width="0.7" />
<line x1="248.26" y1="60.81" x2="251.06" y2="60.81" stroke="#19c219" stroke-width="0.7" />
<line x1="248.26" y1="66.6" x2="251.06" y2="66.6" stroke="#19c219" stroke-width="0.7" />
<circle cx="249.66" cy="63.71" r="1.75" fill="#19c219"/>
<line x1="256.93" y1="79.61" x2="256.93" y2="85.4" stroke="#19c219" stroke-width="0.7" />
<line x1="255.53" y1="79.61" x2="258.33" y2="79.61" stroke="#19c219" stroke-width="0.7" />
<line x1="255.53" y1="85.4" x2="258.33" y2="85.4" stroke="#19c219" stroke-width="0.7" />
<circle cx="256.93" cy="82.5" r="1.75" fill="#19c219"/>
<line x1="264.2" y1="84.43" x2="264.2" y2="90.22" stroke="#19c219" stroke-width="0.7" />
<line x1="262.8" y1="84.43" x2="265.6" y2="84.43" stroke="#19c219" stroke-width="0.7" />
<line x1="262.8" y1="90.22" x2="265.6" y2="90.22" stroke="#19c219" stroke-width="0.7" />
<circle cx="264.2" cy="87.32" r="1.75" fill="#19c219"/>
<line x1="271.47" y1="89.25" x2="271.47" y2="95.04" stroke="#19c219" stroke-width="0.7" />
<line x1="270.07" y1="89.25" x2="272.87" y2="89.25" stroke="#19c219" stroke-width="0.7" />
<line x1="270.07" y1="95.04" x2="272.87" y2="95.04" stroke="#19c219" stroke-width="0.7" />
<circle cx="271.47" cy="92.14" r="1.75" fill="#19c219"/>
<line x1="263.8" y1="44.9" x2="271.8" y2="44.9" stroke="#ff1414" stroke-width="0.8" />
<rect x="266.35" y="43.55" width="2.7" height="2.7" fill="#ff1414" stroke="none" stroke-width="0.6" />
<text x="275.2" y="47" font-size="5.9" font-weight="normal" text-anchor="start" fill="#111" class="lg">Control</text>
<line x1="263.8" y1="53.6" x2="271.8" y2="53.6" stroke="#19c219" stroke-width="0.8" />
<circle cx="267.7" cy="53.6" r="1.5" fill="#19c219"/>
<text x="275.2" y="55.7" font-size="5.9" font-weight="normal" text-anchor="start" fill="#111" class="lg">OE</text>
<line x1="263.8" y1="63.1" x2="271.8" y2="63.1" stroke="#000" stroke-width="0.8" />
<polygon points="267.7,61.45 269.2,64.3 266.2,64.3" fill="#000"/>
<text x="275.2" y="65.2" font-size="5.9" font-weight="normal" text-anchor="start" fill="#111" class="lg">OE+shRNA</text>
<text x="307.3" y="12.8" font-size="9.6" font-weight="normal" text-anchor="start" fill="#111" class="pl">C</text>
<line x1="352.5" y1="24.3" x2="352.5" y2="93.5" stroke="#22b2f0" stroke-width="1.0" />
<line x1="373.7" y1="24.3" x2="373.7" y2="93.5" stroke="#22b2f0" stroke-width="1.0" />
<line x1="395.7" y1="24.3" x2="395.7" y2="93.5" stroke="#22b2f0" stroke-width="1.0" />
<line x1="335.8" y1="23.3" x2="335.8" y2="96.9" stroke="#000" stroke-width="0.8" />
<line x1="335.4" y1="96.5" x2="444.95" y2="96.5" stroke="#000" stroke-width="0.8" />
<line x1="335.8" y1="96.5" x2="335.8" y2="99.2" stroke="#000" stroke-width="0.7" />
<line x1="339.43" y1="96.5" x2="339.43" y2="98" stroke="#000" stroke-width="0.7" />
<line x1="343.05" y1="96.5" x2="343.05" y2="98" stroke="#000" stroke-width="0.7" />
<line x1="346.68" y1="96.5" x2="346.68" y2="98" stroke="#000" stroke-width="0.7" />
<line x1="350.3" y1="96.5" x2="350.3" y2="98" stroke="#000" stroke-width="0.7" />
<line x1="353.93" y1="96.5" x2="353.93" y2="98" stroke="#000" stroke-width="0.7" />
<line x1="357.55" y1="96.5" x2="357.55" y2="98" stroke="#000" stroke-width="0.7" />
<line x1="361.18" y1="96.5" x2="361.18" y2="98" stroke="#000" stroke-width="0.7" />
<line x1="364.8" y1="96.5" x2="364.8" y2="98" stroke="#000" stroke-width="0.7" />
<line x1="368.43" y1="96.5" x2="368.43" y2="98" stroke="#000" stroke-width="0.7" />
<line x1="372.05" y1="96.5" x2="372.05" y2="99.2" stroke="#000" stroke-width="0.7" />
<line x1="375.68" y1="96.5" x2="375.68" y2="98" stroke="#000" stroke-width="0.7" />
<line x1="379.3" y1="96.5" x2="379.3" y2="98" stroke="#000" stroke-width="0.7" />
<line x1="382.93" y1="96.5" x2="382.93" y2="98" stroke="#000" stroke-width="0.7" />
<line x1="386.55" y1="96.5" x2="386.55" y2="98" stroke="#000" stroke-width="0.7" />
<line x1="390.18" y1="96.5" x2="390.18" y2="98" stroke="#000" stroke-width="0.7" />
<line x1="393.8" y1="96.5" x2="393.8" y2="98" stroke="#000" stroke-width="0.7" />
<line x1="397.43" y1="96.5" x2="397.43" y2="98" stroke="#000" stroke-width="0.7" />
<line x1="401.05" y1="96.5" x2="401.05" y2="98" stroke="#000" stroke-width="0.7" />
<line x1="404.68" y1="96.5" x2="404.68" y2="98" stroke="#000" stroke-width="0.7" />
<line x1="408.3" y1="96.5" x2="408.3" y2="99.2" stroke="#000" stroke-width="0.7" />
<line x1="411.93" y1="96.5" x2="411.93" y2="98" stroke="#000" stroke-width="0.7" />
<line x1="415.55" y1="96.5" x2="415.55" y2="98" stroke="#000" stroke-width="0.7" />
<line x1="419.18" y1="96.5" x2="419.18" y2="98" stroke="#000" stroke-width="0.7" />
<line x1="422.8" y1="96.5" x2="422.8" y2="98" stroke="#000" stroke-width="0.7" />
<line x1="426.43" y1="96.5" x2="426.43" y2="98" stroke="#000" stroke-width="0.7" />
<line x1="430.05" y1="96.5" x2="430.05" y2="98" stroke="#000" stroke-width="0.7" />
<line x1="433.68" y1="96.5" x2="433.68" y2="98" stroke="#000" stroke-width="0.7" />
<line x1="437.3" y1="96.5" x2="437.3" y2="98" stroke="#000" stroke-width="0.7" />
<line x1="440.93" y1="96.5" x2="440.93" y2="98" stroke="#000" stroke-width="0.7" />
<line x1="444.55" y1="96.5" x2="444.55" y2="99.2" stroke="#000" stroke-width="0.7" />
<text x="335.8" y="106" font-size="5.1" font-weight="bold" text-anchor="middle" fill="#111" >0</text>
<text x="372.05" y="106" font-size="5.1" font-weight="bold" text-anchor="middle" fill="#111" >50</text>
<text x="408.3" y="106" font-size="5.1" font-weight="bold" text-anchor="middle" fill="#111" >100</text>
<text x="444.55" y="106" font-size="5.1" font-weight="bold" text-anchor="middle" fill="#111" >150</text>
<line x1="332.4" y1="96.5" x2="335.8" y2="96.5" stroke="#000" stroke-width="0.7" />
<text x="331.5" y="98.8" font-size="5.1" font-weight="bold" text-anchor="end" fill="#111" >0</text>
<line x1="332.4" y1="78.3" x2="335.8" y2="78.3" stroke="#000" stroke-width="0.7" />
<text x="331.5" y="80.6" font-size="5.1" font-weight="bold" text-anchor="end" fill="#111" >50</text>
<line x1="332.4" y1="60.1" x2="335.8" y2="60.1" stroke="#000" stroke-width="0.7" />
<text x="331.5" y="62.4" font-size="5.1" font-weight="bold" text-anchor="end" fill="#111" >100</text>
<line x1="332.4" y1="41.9" x2="335.8" y2="41.9" stroke="#000" stroke-width="0.7" />
<text x="331.5" y="44.2" font-size="5.1" font-weight="bold" text-anchor="end" fill="#111" >150</text>
<line x1="332.4" y1="23.7" x2="335.8" y2="23.7" stroke="#000" stroke-width="0.7" />
<text x="331.5" y="26" font-size="5.1" font-weight="bold" text-anchor="end" fill="#111" >200</text>
<text x="390" y="114.4" font-size="5.8" font-weight="bold" text-anchor="middle" fill="#111" >Min</text>
<text x="320.2" y="61.1" font-size="5.8" font-weight="bold" text-anchor="middle" fill="#111" transform="rotate(-90 320.2 61.1)" >OCR (pmol/min)</text>
<text x="350.6" y="19.7" font-size="5.7" font-weight="bold" text-anchor="middle" fill="#111" >Oligo.</text>
<text x="371.8" y="19.7" font-size="5.7" font-weight="bold" text-anchor="middle" fill="#111" >FCCP</text>
<text x="400.5" y="19.7" font-size="5.7" font-weight="bold" text-anchor="middle" fill="#111" >Anti.A+Roten.</text>
<polyline points="335.8,69.93 343.05,68.84 350.3,71.02 357.55,89.22 364.8,91.77 372.05,89.95 379.3,56.46 386.55,49.91 393.8,61.56 401.05,90.68 408.3,92.5 415.55,94.68" fill="none" stroke="#000" stroke-width="1.05" stroke-linejoin="round"/>
<line x1="335.8" y1="67.38" x2="335.8" y2="72.48" stroke="#000" stroke-width="0.7" />
<line x1="334.4" y1="67.38" x2="337.2" y2="67.38" stroke="#000" stroke-width="0.7" />
<line x1="334.4" y1="72.48" x2="337.2" y2="72.48" stroke="#000" stroke-width="0.7" />
<polygon points="335.8,68.17 337.4,71.21 334.2,71.21" fill="#000"/>
<line x1="343.05" y1="66.29" x2="343.05" y2="71.38" stroke="#000" stroke-width="0.7" />
<line x1="341.65" y1="66.29" x2="344.45" y2="66.29" stroke="#000" stroke-width="0.7" />
<line x1="341.65" y1="71.38" x2="344.45" y2="71.38" stroke="#000" stroke-width="0.7" />
<polygon points="343.05,67.08 344.65,70.12 341.45,70.12" fill="#000"/>
<line x1="350.3" y1="68.47" x2="350.3" y2="73.57" stroke="#000" stroke-width="0.7" />
<line x1="348.9" y1="68.47" x2="351.7" y2="68.47" stroke="#000" stroke-width="0.7" />
<line x1="348.9" y1="73.57" x2="351.7" y2="73.57" stroke="#000" stroke-width="0.7" />
<polygon points="350.3,69.26 351.9,72.3 348.7,72.3" fill="#000"/>
<line x1="357.55" y1="86.67" x2="357.55" y2="91.77" stroke="#000" stroke-width="0.7" />
<line x1="356.15" y1="86.67" x2="358.95" y2="86.67" stroke="#000" stroke-width="0.7" />
<line x1="356.15" y1="91.77" x2="358.95" y2="91.77" stroke="#000" stroke-width="0.7" />
<polygon points="357.55,87.46 359.15,90.5 355.95,90.5" fill="#000"/>
<line x1="364.8" y1="89.22" x2="364.8" y2="94.32" stroke="#000" stroke-width="0.7" />
<line x1="363.4" y1="89.22" x2="366.2" y2="89.22" stroke="#000" stroke-width="0.7" />
<line x1="363.4" y1="94.32" x2="366.2" y2="94.32" stroke="#000" stroke-width="0.7" />
<polygon points="364.8,90.01 366.4,93.05 363.2,93.05" fill="#000"/>
<line x1="372.05" y1="87.4" x2="372.05" y2="92.5" stroke="#000" stroke-width="0.7" />
<line x1="370.65" y1="87.4" x2="373.45" y2="87.4" stroke="#000" stroke-width="0.7" />
<line x1="370.65" y1="92.5" x2="373.45" y2="92.5" stroke="#000" stroke-width="0.7" />
<polygon points="372.05,88.19 373.65,91.23 370.45,91.23" fill="#000"/>
<line x1="379.3" y1="53.91" x2="379.3" y2="59.01" stroke="#000" stroke-width="0.7" />
<line x1="377.9" y1="53.91" x2="380.7" y2="53.91" stroke="#000" stroke-width="0.7" />
<line x1="377.9" y1="59.01" x2="380.7" y2="59.01" stroke="#000" stroke-width="0.7" />
<polygon points="379.3,54.7 380.9,57.74 377.7,57.74" fill="#000"/>
<line x1="386.55" y1="47.36" x2="386.55" y2="52.46" stroke="#000" stroke-width="0.7" />
<line x1="385.15" y1="47.36" x2="387.95" y2="47.36" stroke="#000" stroke-width="0.7" />
<line x1="385.15" y1="52.46" x2="387.95" y2="52.46" stroke="#000" stroke-width="0.7" />
<polygon points="386.55,48.15 388.15,51.19 384.95,51.19" fill="#000"/>
<line x1="393.8" y1="59.01" x2="393.8" y2="64.1" stroke="#000" stroke-width="0.7" />
<line x1="392.4" y1="59.01" x2="395.2" y2="59.01" stroke="#000" stroke-width="0.7" />
<line x1="392.4" y1="64.1" x2="395.2" y2="64.1" stroke="#000" stroke-width="0.7" />
<polygon points="393.8,59.8 395.4,62.84 392.2,62.84" fill="#000"/>
<line x1="401.05" y1="89.15" x2="401.05" y2="92.2" stroke="#000" stroke-width="0.7" />
<line x1="399.65" y1="89.15" x2="402.45" y2="89.15" stroke="#000" stroke-width="0.7" />
<line x1="399.65" y1="92.2" x2="402.45" y2="92.2" stroke="#000" stroke-width="0.7" />
<polygon points="401.05,88.92 402.65,91.96 399.45,91.96" fill="#000"/>
<line x1="408.3" y1="90.97" x2="408.3" y2="94.02" stroke="#000" stroke-width="0.7" />
<line x1="406.9" y1="90.97" x2="409.7" y2="90.97" stroke="#000" stroke-width="0.7" />
<line x1="406.9" y1="94.02" x2="409.7" y2="94.02" stroke="#000" stroke-width="0.7" />
<polygon points="408.3,90.74 409.9,93.78 406.7,93.78" fill="#000"/>
<line x1="415.55" y1="93.15" x2="415.55" y2="96.21" stroke="#000" stroke-width="0.7" />
<line x1="414.15" y1="93.15" x2="416.95" y2="93.15" stroke="#000" stroke-width="0.7" />
<line x1="414.15" y1="96.21" x2="416.95" y2="96.21" stroke="#000" stroke-width="0.7" />
<polygon points="415.55,92.92 417.15,95.96 413.95,95.96" fill="#000"/>
<polyline points="335.8,66.65 343.05,66.65 350.3,68.84 357.55,87.04 364.8,89.58 372.05,88.13 379.3,54.28 386.55,47 393.8,60.1 401.05,90.31 408.3,92.13 415.55,93.95" fill="none" stroke="#000" stroke-width="1.05" stroke-linejoin="round"/>
<line x1="335.8" y1="64.1" x2="335.8" y2="69.2" stroke="#000" stroke-width="0.7" />
<line x1="334.4" y1="64.1" x2="337.2" y2="64.1" stroke="#000" stroke-width="0.7" />
<line x1="334.4" y1="69.2" x2="337.2" y2="69.2" stroke="#000" stroke-width="0.7" />
<rect x="334.36" y="65.21" width="2.88" height="2.88" fill="#000" stroke="none" stroke-width="0.6" />
<line x1="343.05" y1="64.1" x2="343.05" y2="69.2" stroke="#000" stroke-width="0.7" />
<line x1="341.65" y1="64.1" x2="344.45" y2="64.1" stroke="#000" stroke-width="0.7" />
<line x1="341.65" y1="69.2" x2="344.45" y2="69.2" stroke="#000" stroke-width="0.7" />
<rect x="341.61" y="65.21" width="2.88" height="2.88" fill="#000" stroke="none" stroke-width="0.6" />
<line x1="350.3" y1="66.29" x2="350.3" y2="71.38" stroke="#000" stroke-width="0.7" />
<line x1="348.9" y1="66.29" x2="351.7" y2="66.29" stroke="#000" stroke-width="0.7" />
<line x1="348.9" y1="71.38" x2="351.7" y2="71.38" stroke="#000" stroke-width="0.7" />
<rect x="348.86" y="67.4" width="2.88" height="2.88" fill="#000" stroke="none" stroke-width="0.6" />
<line x1="357.55" y1="84.49" x2="357.55" y2="89.58" stroke="#000" stroke-width="0.7" />
<line x1="356.15" y1="84.49" x2="358.95" y2="84.49" stroke="#000" stroke-width="0.7" />
<line x1="356.15" y1="89.58" x2="358.95" y2="89.58" stroke="#000" stroke-width="0.7" />
<rect x="356.11" y="85.6" width="2.88" height="2.88" fill="#000" stroke="none" stroke-width="0.6" />
<line x1="364.8" y1="87.04" x2="364.8" y2="92.13" stroke="#000" stroke-width="0.7" />
<line x1="363.4" y1="87.04" x2="366.2" y2="87.04" stroke="#000" stroke-width="0.7" />
<line x1="363.4" y1="92.13" x2="366.2" y2="92.13" stroke="#000" stroke-width="0.7" />
<rect x="363.36" y="88.14" width="2.88" height="2.88" fill="#000" stroke="none" stroke-width="0.6" />
<line x1="372.05" y1="85.58" x2="372.05" y2="90.68" stroke="#000" stroke-width="0.7" />
<line x1="370.65" y1="85.58" x2="373.45" y2="85.58" stroke="#000" stroke-width="0.7" />
<line x1="370.65" y1="90.68" x2="373.45" y2="90.68" stroke="#000" stroke-width="0.7" />
<rect x="370.61" y="86.69" width="2.88" height="2.88" fill="#000" stroke="none" stroke-width="0.6" />
<line x1="379.3" y1="51.73" x2="379.3" y2="56.82" stroke="#000" stroke-width="0.7" />
<line x1="377.9" y1="51.73" x2="380.7" y2="51.73" stroke="#000" stroke-width="0.7" />
<line x1="377.9" y1="56.82" x2="380.7" y2="56.82" stroke="#000" stroke-width="0.7" />
<rect x="377.86" y="52.84" width="2.88" height="2.88" fill="#000" stroke="none" stroke-width="0.6" />
<line x1="386.55" y1="44.45" x2="386.55" y2="49.54" stroke="#000" stroke-width="0.7" />
<line x1="385.15" y1="44.45" x2="387.95" y2="44.45" stroke="#000" stroke-width="0.7" />
<line x1="385.15" y1="49.54" x2="387.95" y2="49.54" stroke="#000" stroke-width="0.7" />
<rect x="385.11" y="45.56" width="2.88" height="2.88" fill="#000" stroke="none" stroke-width="0.6" />
<line x1="393.8" y1="57.55" x2="393.8" y2="62.65" stroke="#000" stroke-width="0.7" />
<line x1="392.4" y1="57.55" x2="395.2" y2="57.55" stroke="#000" stroke-width="0.7" />
<line x1="392.4" y1="62.65" x2="395.2" y2="62.65" stroke="#000" stroke-width="0.7" />
<rect x="392.36" y="58.66" width="2.88" height="2.88" fill="#000" stroke="none" stroke-width="0.6" />
<line x1="401.05" y1="88.78" x2="401.05" y2="91.84" stroke="#000" stroke-width="0.7" />
<line x1="399.65" y1="88.78" x2="402.45" y2="88.78" stroke="#000" stroke-width="0.7" />
<line x1="399.65" y1="91.84" x2="402.45" y2="91.84" stroke="#000" stroke-width="0.7" />
<rect x="399.61" y="88.87" width="2.88" height="2.88" fill="#000" stroke="none" stroke-width="0.6" />
<line x1="408.3" y1="90.6" x2="408.3" y2="93.66" stroke="#000" stroke-width="0.7" />
<line x1="406.9" y1="90.6" x2="409.7" y2="90.6" stroke="#000" stroke-width="0.7" />
<line x1="406.9" y1="93.66" x2="409.7" y2="93.66" stroke="#000" stroke-width="0.7" />
<rect x="406.86" y="90.69" width="2.88" height="2.88" fill="#000" stroke="none" stroke-width="0.6" />
<line x1="415.55" y1="92.42" x2="415.55" y2="95.48" stroke="#000" stroke-width="0.7" />
<line x1="414.15" y1="92.42" x2="416.95" y2="92.42" stroke="#000" stroke-width="0.7" />
<line x1="414.15" y1="95.48" x2="416.95" y2="95.48" stroke="#000" stroke-width="0.7" />
<rect x="414.11" y="92.51" width="2.88" height="2.88" fill="#000" stroke="none" stroke-width="0.6" />
<polyline points="335.8,57.19 343.05,50.27 350.3,57.19 357.55,76.48 364.8,74.66 372.05,76.48 379.3,45.54 386.55,41.9 393.8,41.9 401.05,89.22 408.3,88.49 415.55,89.22" fill="none" stroke="#000" stroke-width="1.05" stroke-linejoin="round"/>
<line x1="335.8" y1="54.64" x2="335.8" y2="59.74" stroke="#000" stroke-width="0.7" />
<line x1="334.4" y1="54.64" x2="337.2" y2="54.64" stroke="#000" stroke-width="0.7" />
<line x1="334.4" y1="59.74" x2="337.2" y2="59.74" stroke="#000" stroke-width="0.7" />
<circle cx="335.8" cy="57.19" r="1.6" fill="#000"/>
<line x1="343.05" y1="47.72" x2="343.05" y2="52.82" stroke="#000" stroke-width="0.7" />
<line x1="341.65" y1="47.72" x2="344.45" y2="47.72" stroke="#000" stroke-width="0.7" />
<line x1="341.65" y1="52.82" x2="344.45" y2="52.82" stroke="#000" stroke-width="0.7" />
<circle cx="343.05" cy="50.27" r="1.6" fill="#000"/>
<line x1="350.3" y1="54.64" x2="350.3" y2="59.74" stroke="#000" stroke-width="0.7" />
<line x1="348.9" y1="54.64" x2="351.7" y2="54.64" stroke="#000" stroke-width="0.7" />
<line x1="348.9" y1="59.74" x2="351.7" y2="59.74" stroke="#000" stroke-width="0.7" />
<circle cx="350.3" cy="57.19" r="1.6" fill="#000"/>
<line x1="357.55" y1="73.93" x2="357.55" y2="79.03" stroke="#000" stroke-width="0.7" />
<line x1="356.15" y1="73.93" x2="358.95" y2="73.93" stroke="#000" stroke-width="0.7" />
<line x1="356.15" y1="79.03" x2="358.95" y2="79.03" stroke="#000" stroke-width="0.7" />
<circle cx="357.55" cy="76.48" r="1.6" fill="#000"/>
<line x1="364.8" y1="72.11" x2="364.8" y2="77.21" stroke="#000" stroke-width="0.7" />
<line x1="363.4" y1="72.11" x2="366.2" y2="72.11" stroke="#000" stroke-width="0.7" />
<line x1="363.4" y1="77.21" x2="366.2" y2="77.21" stroke="#000" stroke-width="0.7" />
<circle cx="364.8" cy="74.66" r="1.6" fill="#000"/>
<line x1="372.05" y1="73.93" x2="372.05" y2="79.03" stroke="#000" stroke-width="0.7" />
<line x1="370.65" y1="73.93" x2="373.45" y2="73.93" stroke="#000" stroke-width="0.7" />
<line x1="370.65" y1="79.03" x2="373.45" y2="79.03" stroke="#000" stroke-width="0.7" />
<circle cx="372.05" cy="76.48" r="1.6" fill="#000"/>
<line x1="379.3" y1="42.99" x2="379.3" y2="48.09" stroke="#000" stroke-width="0.7" />
<line x1="377.9" y1="42.99" x2="380.7" y2="42.99" stroke="#000" stroke-width="0.7" />
<line x1="377.9" y1="48.09" x2="380.7" y2="48.09" stroke="#000" stroke-width="0.7" />
<circle cx="379.3" cy="45.54" r="1.6" fill="#000"/>
<line x1="386.55" y1="39.35" x2="386.55" y2="44.45" stroke="#000" stroke-width="0.7" />
<line x1="385.15" y1="39.35" x2="387.95" y2="39.35" stroke="#000" stroke-width="0.7" />
<line x1="385.15" y1="44.45" x2="387.95" y2="44.45" stroke="#000" stroke-width="0.7" />
<circle cx="386.55" cy="41.9" r="1.6" fill="#000"/>
<line x1="393.8" y1="39.35" x2="393.8" y2="44.45" stroke="#000" stroke-width="0.7" />
<line x1="392.4" y1="39.35" x2="395.2" y2="39.35" stroke="#000" stroke-width="0.7" />
<line x1="392.4" y1="44.45" x2="395.2" y2="44.45" stroke="#000" stroke-width="0.7" />
<circle cx="393.8" cy="41.9" r="1.6" fill="#000"/>
<line x1="401.05" y1="87.69" x2="401.05" y2="90.75" stroke="#000" stroke-width="0.7" />
<line x1="399.65" y1="87.69" x2="402.45" y2="87.69" stroke="#000" stroke-width="0.7" />
<line x1="399.65" y1="90.75" x2="402.45" y2="90.75" stroke="#000" stroke-width="0.7" />
<circle cx="401.05" cy="89.22" r="1.6" fill="#000"/>
<line x1="408.3" y1="86.96" x2="408.3" y2="90.02" stroke="#000" stroke-width="0.7" />
<line x1="406.9" y1="86.96" x2="409.7" y2="86.96" stroke="#000" stroke-width="0.7" />
<line x1="406.9" y1="90.02" x2="409.7" y2="90.02" stroke="#000" stroke-width="0.7" />
<circle cx="408.3" cy="88.49" r="1.6" fill="#000"/>
<line x1="415.55" y1="87.69" x2="415.55" y2="90.75" stroke="#000" stroke-width="0.7" />
<line x1="414.15" y1="87.69" x2="416.95" y2="87.69" stroke="#000" stroke-width="0.7" />
<line x1="414.15" y1="90.75" x2="416.95" y2="90.75" stroke="#000" stroke-width="0.7" />
<circle cx="415.55" cy="89.22" r="1.6" fill="#000"/>
<polyline points="335.8,55.73 343.05,55.73 350.3,58.28 357.55,77.57 364.8,76.48 372.05,77.57 379.3,40.08 386.55,35.71 393.8,31.71 401.05,88.49 408.3,88.13 415.55,87.4" fill="none" stroke="#ff1414" stroke-width="1.05" stroke-linejoin="round"/>
<line x1="335.8" y1="52.82" x2="335.8" y2="58.64" stroke="#ff1414" stroke-width="0.7" />
<line x1="334.4" y1="52.82" x2="337.2" y2="52.82" stroke="#ff1414" stroke-width="0.7" />
<line x1="334.4" y1="58.64" x2="337.2" y2="58.64" stroke="#ff1414" stroke-width="0.7" />
<rect x="334.05" y="53.98" width="3.51" height="3.51" fill="#ff1414" stroke="none" stroke-width="0.6" />
<line x1="343.05" y1="52.82" x2="343.05" y2="58.64" stroke="#ff1414" stroke-width="0.7" />
<line x1="341.65" y1="52.82" x2="344.45" y2="52.82" stroke="#ff1414" stroke-width="0.7" />
<line x1="341.65" y1="58.64" x2="344.45" y2="58.64" stroke="#ff1414" stroke-width="0.7" />
<rect x="341.3" y="53.98" width="3.51" height="3.51" fill="#ff1414" stroke="none" stroke-width="0.6" />
<line x1="350.3" y1="55.37" x2="350.3" y2="61.19" stroke="#ff1414" stroke-width="0.7" />
<line x1="348.9" y1="55.37" x2="351.7" y2="55.37" stroke="#ff1414" stroke-width="0.7" />
<line x1="348.9" y1="61.19" x2="351.7" y2="61.19" stroke="#ff1414" stroke-width="0.7" />
<rect x="348.55" y="56.52" width="3.51" height="3.51" fill="#ff1414" stroke="none" stroke-width="0.6" />
<line x1="357.55" y1="74.66" x2="357.55" y2="80.48" stroke="#ff1414" stroke-width="0.7" />
<line x1="356.15" y1="74.66" x2="358.95" y2="74.66" stroke="#ff1414" stroke-width="0.7" />
<line x1="356.15" y1="80.48" x2="358.95" y2="80.48" stroke="#ff1414" stroke-width="0.7" />
<rect x="355.8" y="75.82" width="3.51" height="3.51" fill="#ff1414" stroke="none" stroke-width="0.6" />
<line x1="364.8" y1="73.57" x2="364.8" y2="79.39" stroke="#ff1414" stroke-width="0.7" />
<line x1="363.4" y1="73.57" x2="366.2" y2="73.57" stroke="#ff1414" stroke-width="0.7" />
<line x1="363.4" y1="79.39" x2="366.2" y2="79.39" stroke="#ff1414" stroke-width="0.7" />
<rect x="363.05" y="74.73" width="3.51" height="3.51" fill="#ff1414" stroke="none" stroke-width="0.6" />
<line x1="372.05" y1="74.66" x2="372.05" y2="80.48" stroke="#ff1414" stroke-width="0.7" />
<line x1="370.65" y1="74.66" x2="373.45" y2="74.66" stroke="#ff1414" stroke-width="0.7" />
<line x1="370.65" y1="80.48" x2="373.45" y2="80.48" stroke="#ff1414" stroke-width="0.7" />
<rect x="370.3" y="75.82" width="3.51" height="3.51" fill="#ff1414" stroke="none" stroke-width="0.6" />
<line x1="379.3" y1="37.17" x2="379.3" y2="42.99" stroke="#ff1414" stroke-width="0.7" />
<line x1="377.9" y1="37.17" x2="380.7" y2="37.17" stroke="#ff1414" stroke-width="0.7" />
<line x1="377.9" y1="42.99" x2="380.7" y2="42.99" stroke="#ff1414" stroke-width="0.7" />
<rect x="377.55" y="38.32" width="3.51" height="3.51" fill="#ff1414" stroke="none" stroke-width="0.6" />
<line x1="386.55" y1="32.8" x2="386.55" y2="38.62" stroke="#ff1414" stroke-width="0.7" />
<line x1="385.15" y1="32.8" x2="387.95" y2="32.8" stroke="#ff1414" stroke-width="0.7" />
<line x1="385.15" y1="38.62" x2="387.95" y2="38.62" stroke="#ff1414" stroke-width="0.7" />
<rect x="384.8" y="33.96" width="3.51" height="3.51" fill="#ff1414" stroke="none" stroke-width="0.6" />
<line x1="393.8" y1="28.8" x2="393.8" y2="34.62" stroke="#ff1414" stroke-width="0.7" />
<line x1="392.4" y1="28.8" x2="395.2" y2="28.8" stroke="#ff1414" stroke-width="0.7" />
<line x1="392.4" y1="34.62" x2="395.2" y2="34.62" stroke="#ff1414" stroke-width="0.7" />
<rect x="392.05" y="29.95" width="3.51" height="3.51" fill="#ff1414" stroke="none" stroke-width="0.6" />
<line x1="401.05" y1="86.74" x2="401.05" y2="90.24" stroke="#ff1414" stroke-width="0.7" />
<line x1="399.65" y1="86.74" x2="402.45" y2="86.74" stroke="#ff1414" stroke-width="0.7" />
<line x1="399.65" y1="90.24" x2="402.45" y2="90.24" stroke="#ff1414" stroke-width="0.7" />
<rect x="399.3" y="86.74" width="3.51" height="3.51" fill="#ff1414" stroke="none" stroke-width="0.6" />
<line x1="408.3" y1="86.38" x2="408.3" y2="89.88" stroke="#ff1414" stroke-width="0.7" />
<line x1="406.9" y1="86.38" x2="409.7" y2="86.38" stroke="#ff1414" stroke-width="0.7" />
<line x1="406.9" y1="89.88" x2="409.7" y2="89.88" stroke="#ff1414" stroke-width="0.7" />
<rect x="406.55" y="86.37" width="3.51" height="3.51" fill="#ff1414" stroke="none" stroke-width="0.6" />
<line x1="415.55" y1="85.65" x2="415.55" y2="89.15" stroke="#ff1414" stroke-width="0.7" />
<line x1="414.15" y1="85.65" x2="416.95" y2="85.65" stroke="#ff1414" stroke-width="0.7" />
<line x1="414.15" y1="89.15" x2="416.95" y2="89.15" stroke="#ff1414" stroke-width="0.7" />
<rect x="413.8" y="85.65" width="3.51" height="3.51" fill="#ff1414" stroke="none" stroke-width="0.6" />
<polyline points="335.8,68.11 343.05,67.38 350.3,69.2 357.55,87.4 364.8,89.95 372.05,88.49 379.3,54.64 386.55,48.45 393.8,58.28 401.05,89.95 408.3,91.04 415.55,92.86" fill="none" stroke="#19c219" stroke-width="1.05" stroke-linejoin="round"/>
<line x1="335.8" y1="65.2" x2="335.8" y2="71.02" stroke="#19c219" stroke-width="0.7" />
<line x1="334.4" y1="65.2" x2="337.2" y2="65.2" stroke="#19c219" stroke-width="0.7" />
<line x1="334.4" y1="71.02" x2="337.2" y2="71.02" stroke="#19c219" stroke-width="0.7" />
<polygon points="335.8,66.01 337.9,68.11 335.8,70.21 333.7,68.11" fill="#19c219"/>
<line x1="343.05" y1="64.47" x2="343.05" y2="70.29" stroke="#19c219" stroke-width="0.7" />
<line x1="341.65" y1="64.47" x2="344.45" y2="64.47" stroke="#19c219" stroke-width="0.7" />
<line x1="341.65" y1="70.29" x2="344.45" y2="70.29" stroke="#19c219" stroke-width="0.7" />
<polygon points="343.05,65.28 345.15,67.38 343.05,69.48 340.95,67.38" fill="#19c219"/>
<line x1="350.3" y1="66.29" x2="350.3" y2="72.11" stroke="#19c219" stroke-width="0.7" />
<line x1="348.9" y1="66.29" x2="351.7" y2="66.29" stroke="#19c219" stroke-width="0.7" />
<line x1="348.9" y1="72.11" x2="351.7" y2="72.11" stroke="#19c219" stroke-width="0.7" />
<polygon points="350.3,67.1 352.4,69.2 350.3,71.3 348.2,69.2" fill="#19c219"/>
<line x1="357.55" y1="84.49" x2="357.55" y2="90.31" stroke="#19c219" stroke-width="0.7" />
<line x1="356.15" y1="84.49" x2="358.95" y2="84.49" stroke="#19c219" stroke-width="0.7" />
<line x1="356.15" y1="90.31" x2="358.95" y2="90.31" stroke="#19c219" stroke-width="0.7" />
<polygon points="357.55,85.3 359.65,87.4 357.55,89.5 355.45,87.4" fill="#19c219"/>
<line x1="364.8" y1="87.04" x2="364.8" y2="92.86" stroke="#19c219" stroke-width="0.7" />
<line x1="363.4" y1="87.04" x2="366.2" y2="87.04" stroke="#19c219" stroke-width="0.7" />
<line x1="363.4" y1="92.86" x2="366.2" y2="92.86" stroke="#19c219" stroke-width="0.7" />
<polygon points="364.8,87.85 366.9,89.95 364.8,92.05 362.7,89.95" fill="#19c219"/>
<line x1="372.05" y1="85.58" x2="372.05" y2="91.4" stroke="#19c219" stroke-width="0.7" />
<line x1="370.65" y1="85.58" x2="373.45" y2="85.58" stroke="#19c219" stroke-width="0.7" />
<line x1="370.65" y1="91.4" x2="373.45" y2="91.4" stroke="#19c219" stroke-width="0.7" />
<polygon points="372.05,86.39 374.15,88.49 372.05,90.59 369.95,88.49" fill="#19c219"/>
<line x1="379.3" y1="51.73" x2="379.3" y2="57.55" stroke="#19c219" stroke-width="0.7" />
<line x1="377.9" y1="51.73" x2="380.7" y2="51.73" stroke="#19c219" stroke-width="0.7" />
<line x1="377.9" y1="57.55" x2="380.7" y2="57.55" stroke="#19c219" stroke-width="0.7" />
<polygon points="379.3,52.54 381.4,54.64 379.3,56.74 377.2,54.64" fill="#19c219"/>
<line x1="386.55" y1="45.54" x2="386.55" y2="51.36" stroke="#19c219" stroke-width="0.7" />
<line x1="385.15" y1="45.54" x2="387.95" y2="45.54" stroke="#19c219" stroke-width="0.7" />
<line x1="385.15" y1="51.36" x2="387.95" y2="51.36" stroke="#19c219" stroke-width="0.7" />
<polygon points="386.55,46.35 388.65,48.45 386.55,50.55 384.45,48.45" fill="#19c219"/>
<line x1="393.8" y1="55.37" x2="393.8" y2="61.19" stroke="#19c219" stroke-width="0.7" />
<line x1="392.4" y1="55.37" x2="395.2" y2="55.37" stroke="#19c219" stroke-width="0.7" />
<line x1="392.4" y1="61.19" x2="395.2" y2="61.19" stroke="#19c219" stroke-width="0.7" />
<polygon points="393.8,56.18 395.9,58.28 393.8,60.38 391.7,58.28" fill="#19c219"/>
<line x1="401.05" y1="88.2" x2="401.05" y2="91.7" stroke="#19c219" stroke-width="0.7" />
<line x1="399.65" y1="88.2" x2="402.45" y2="88.2" stroke="#19c219" stroke-width="0.7" />
<line x1="399.65" y1="91.7" x2="402.45" y2="91.7" stroke="#19c219" stroke-width="0.7" />
<polygon points="401.05,87.85 403.15,89.95 401.05,92.05 398.95,89.95" fill="#19c219"/>
<line x1="408.3" y1="89.29" x2="408.3" y2="92.79" stroke="#19c219" stroke-width="0.7" />
<line x1="406.9" y1="89.29" x2="409.7" y2="89.29" stroke="#19c219" stroke-width="0.7" />
<line x1="406.9" y1="92.79" x2="409.7" y2="92.79" stroke="#19c219" stroke-width="0.7" />
<polygon points="408.3,88.94 410.4,91.04 408.3,93.14 406.2,91.04" fill="#19c219"/>
<line x1="415.55" y1="91.11" x2="415.55" y2="94.61" stroke="#19c219" stroke-width="0.7" />
<line x1="414.15" y1="91.11" x2="416.95" y2="91.11" stroke="#19c219" stroke-width="0.7" />
<line x1="414.15" y1="94.61" x2="416.95" y2="94.61" stroke="#19c219" stroke-width="0.7" />
<polygon points="415.55,90.76 417.65,92.86 415.55,94.96 413.45,92.86" fill="#19c219"/>
<line x1="412.5" y1="26.3" x2="420.5" y2="26.3" stroke="#ff1414" stroke-width="0.8" />
<rect x="415.05" y="24.95" width="2.7" height="2.7" fill="#ff1414" stroke="none" stroke-width="0.6" />
<text x="424.9" y="28.4" font-size="5.9" font-weight="normal" text-anchor="start" fill="#111" class="lg">Control</text>
<line x1="412.5" y1="32.8" x2="420.5" y2="32.8" stroke="#19c219" stroke-width="0.8" />
<polygon points="416.4,31 418.2,32.8 416.4,34.6 414.6,32.8" fill="#19c219"/>
<text x="424.9" y="34.9" font-size="5.9" font-weight="normal" text-anchor="start" fill="#111" class="lg">KD</text>
<line x1="412.5" y1="42.5" x2="420.5" y2="42.5" stroke="#000" stroke-width="0.8" />
<circle cx="416.4" cy="42.5" r="1.5" fill="#000"/>
<text x="424.9" y="44.6" font-size="5.9" font-weight="normal" text-anchor="start" fill="#111" class="lg">KD+HS3ST1 WT</text>
<line x1="412.5" y1="52.6" x2="420.5" y2="52.6" stroke="#000" stroke-width="0.8" />
<rect x="415.05" y="51.25" width="2.7" height="2.7" fill="#000" stroke="none" stroke-width="0.6" />
<text x="424.9" y="54.7" font-size="5.9" font-weight="normal" text-anchor="start" fill="#111" class="lg">KD+E86A mutant</text>
<line x1="412.5" y1="62.1" x2="420.5" y2="62.1" stroke="#000" stroke-width="0.8" />
<polygon points="416.4,60.45 417.9,63.3 414.9,63.3" fill="#000"/>
<text x="424.9" y="64.2" font-size="5.9" font-weight="normal" text-anchor="start" fill="#111" class="lg">KD+K119A mutant</text>
<text x="6.8" y="138" font-size="9.6" font-weight="normal" text-anchor="start" fill="#111" class="pl">D</text>
<line x1="45.8" y1="148.9" x2="45.8" y2="214.5" stroke="#22b2f0" stroke-width="1.0" />
<line x1="67" y1="148.9" x2="67" y2="214.5" stroke="#22b2f0" stroke-width="1.0" />
<line x1="89.3" y1="148.9" x2="89.3" y2="214.5" stroke="#22b2f0" stroke-width="1.0" />
<line x1="29.4" y1="147.22" x2="29.4" y2="220.4" stroke="#000" stroke-width="0.8" />
<line x1="29" y1="220" x2="139" y2="220" stroke="#000" stroke-width="0.8" />
<line x1="29.4" y1="220" x2="29.4" y2="222.7" stroke="#000" stroke-width="0.7" />
<line x1="33.04" y1="220" x2="33.04" y2="221.5" stroke="#000" stroke-width="0.7" />
<line x1="36.68" y1="220" x2="36.68" y2="221.5" stroke="#000" stroke-width="0.7" />
<line x1="40.32" y1="220" x2="40.32" y2="221.5" stroke="#000" stroke-width="0.7" />
<line x1="43.96" y1="220" x2="43.96" y2="221.5" stroke="#000" stroke-width="0.7" />
<line x1="47.6" y1="220" x2="47.6" y2="221.5" stroke="#000" stroke-width="0.7" />
<line x1="51.24" y1="220" x2="51.24" y2="221.5" stroke="#000" stroke-width="0.7" />
<line x1="54.88" y1="220" x2="54.88" y2="221.5" stroke="#000" stroke-width="0.7" />
<line x1="58.52" y1="220" x2="58.52" y2="221.5" stroke="#000" stroke-width="0.7" />
<line x1="62.16" y1="220" x2="62.16" y2="221.5" stroke="#000" stroke-width="0.7" />
<line x1="65.8" y1="220" x2="65.8" y2="222.7" stroke="#000" stroke-width="0.7" />
<line x1="69.44" y1="220" x2="69.44" y2="221.5" stroke="#000" stroke-width="0.7" />
<line x1="73.08" y1="220" x2="73.08" y2="221.5" stroke="#000" stroke-width="0.7" />
<line x1="76.72" y1="220" x2="76.72" y2="221.5" stroke="#000" stroke-width="0.7" />
<line x1="80.36" y1="220" x2="80.36" y2="221.5" stroke="#000" stroke-width="0.7" />
<line x1="84" y1="220" x2="84" y2="221.5" stroke="#000" stroke-width="0.7" />
<line x1="87.64" y1="220" x2="87.64" y2="221.5" stroke="#000" stroke-width="0.7" />
<line x1="91.28" y1="220" x2="91.28" y2="221.5" stroke="#000" stroke-width="0.7" />
<line x1="94.92" y1="220" x2="94.92" y2="221.5" stroke="#000" stroke-width="0.7" />
<line x1="98.56" y1="220" x2="98.56" y2="221.5" stroke="#000" stroke-width="0.7" />
<line x1="102.2" y1="220" x2="102.2" y2="222.7" stroke="#000" stroke-width="0.7" />
<line x1="105.84" y1="220" x2="105.84" y2="221.5" stroke="#000" stroke-width="0.7" />
<line x1="109.48" y1="220" x2="109.48" y2="221.5" stroke="#000" stroke-width="0.7" />
<line x1="113.12" y1="220" x2="113.12" y2="221.5" stroke="#000" stroke-width="0.7" />
<line x1="116.76" y1="220" x2="116.76" y2="221.5" stroke="#000" stroke-width="0.7" />
<line x1="120.4" y1="220" x2="120.4" y2="221.5" stroke="#000" stroke-width="0.7" />
<line x1="124.04" y1="220" x2="124.04" y2="221.5" stroke="#000" stroke-width="0.7" />
<line x1="127.68" y1="220" x2="127.68" y2="221.5" stroke="#000" stroke-width="0.7" />
<line x1="131.32" y1="220" x2="131.32" y2="221.5" stroke="#000" stroke-width="0.7" />
<line x1="134.96" y1="220" x2="134.96" y2="221.5" stroke="#000" stroke-width="0.7" />
<line x1="138.6" y1="220" x2="138.6" y2="222.7" stroke="#000" stroke-width="0.7" />
<text x="29.4" y="229.6" font-size="5.1" font-weight="bold" text-anchor="middle" fill="#111" >0</text>
<text x="65.8" y="229.6" font-size="5.1" font-weight="bold" text-anchor="middle" fill="#111" >50</text>
<text x="102.2" y="229.6" font-size="5.1" font-weight="bold" text-anchor="middle" fill="#111" >100</text>
<text x="138.6" y="229.6" font-size="5.1" font-weight="bold" text-anchor="middle" fill="#111" >150</text>
<line x1="26" y1="220" x2="29.4" y2="220" stroke="#000" stroke-width="0.7" />
<text x="25.1" y="222.3" font-size="5.1" font-weight="bold" text-anchor="end" fill="#111" >0</text>
<line x1="26" y1="205.53" x2="29.4" y2="205.53" stroke="#000" stroke-width="0.7" />
<text x="25.1" y="207.83" font-size="5.1" font-weight="bold" text-anchor="end" fill="#111" >50</text>
<line x1="26" y1="191.05" x2="29.4" y2="191.05" stroke="#000" stroke-width="0.7" />
<text x="25.1" y="193.35" font-size="5.1" font-weight="bold" text-anchor="end" fill="#111" >100</text>
<line x1="26" y1="176.57" x2="29.4" y2="176.57" stroke="#000" stroke-width="0.7" />
<text x="25.1" y="178.88" font-size="5.1" font-weight="bold" text-anchor="end" fill="#111" >150</text>
<line x1="26" y1="162.1" x2="29.4" y2="162.1" stroke="#000" stroke-width="0.7" />
<text x="25.1" y="164.4" font-size="5.1" font-weight="bold" text-anchor="end" fill="#111" >200</text>
<line x1="26" y1="147.62" x2="29.4" y2="147.62" stroke="#000" stroke-width="0.7" />
<text x="25.1" y="149.93" font-size="5.1" font-weight="bold" text-anchor="end" fill="#111" >250</text>
<text x="83.9" y="238.2" font-size="5.8" font-weight="bold" text-anchor="middle" fill="#111" >Min</text>
<text x="12.2" y="183" font-size="5.97" font-weight="bold" text-anchor="middle" fill="#111" transform="rotate(-90 12.2 183)" >OCR (pmol/min)</text>
<text x="44.1" y="143.3" font-size="5.7" font-weight="bold" text-anchor="middle" fill="#111" >Oligo.</text>
<text x="64.7" y="143.3" font-size="5.7" font-weight="bold" text-anchor="middle" fill="#111" >FCCP</text>
<text x="94" y="143.3" font-size="5.7" font-weight="bold" text-anchor="middle" fill="#111" >Anti.A+Roten.</text>
<polyline points="29.4,191.05 36.68,188.16 43.96,186.71 51.24,204.08 58.52,206.1 65.8,206.1 73.08,183.81 80.36,186.71 87.64,189.02 94.92,214.21 102.2,215.08 109.48,214.79" fill="none" stroke="#000" stroke-width="1.05" stroke-linejoin="round"/>
<line x1="29.4" y1="188.44" x2="29.4" y2="193.66" stroke="#000" stroke-width="0.7" />
<line x1="28" y1="188.44" x2="30.8" y2="188.44" stroke="#000" stroke-width="0.7" />
<line x1="28" y1="193.66" x2="30.8" y2="193.66" stroke="#000" stroke-width="0.7" />
<polygon points="29.4,189.29 31,192.33 27.8,192.33" fill="#000"/>
<line x1="36.68" y1="185.55" x2="36.68" y2="190.76" stroke="#000" stroke-width="0.7" />
<line x1="35.28" y1="185.55" x2="38.08" y2="185.55" stroke="#000" stroke-width="0.7" />
<line x1="35.28" y1="190.76" x2="38.08" y2="190.76" stroke="#000" stroke-width="0.7" />
<polygon points="36.68,186.4 38.28,189.44 35.08,189.44" fill="#000"/>
<line x1="43.96" y1="184.1" x2="43.96" y2="189.31" stroke="#000" stroke-width="0.7" />
<line x1="42.56" y1="184.1" x2="45.36" y2="184.1" stroke="#000" stroke-width="0.7" />
<line x1="42.56" y1="189.31" x2="45.36" y2="189.31" stroke="#000" stroke-width="0.7" />
<polygon points="43.96,184.95 45.56,187.99 42.36,187.99" fill="#000"/>
<line x1="51.24" y1="201.47" x2="51.24" y2="206.68" stroke="#000" stroke-width="0.7" />
<line x1="49.84" y1="201.47" x2="52.64" y2="201.47" stroke="#000" stroke-width="0.7" />
<line x1="49.84" y1="206.68" x2="52.64" y2="206.68" stroke="#000" stroke-width="0.7" />
<polygon points="51.24,202.32 52.84,205.36 49.64,205.36" fill="#000"/>
<line x1="58.52" y1="203.5" x2="58.52" y2="208.71" stroke="#000" stroke-width="0.7" />
<line x1="57.12" y1="203.5" x2="59.92" y2="203.5" stroke="#000" stroke-width="0.7" />
<line x1="57.12" y1="208.71" x2="59.92" y2="208.71" stroke="#000" stroke-width="0.7" />
<polygon points="58.52,204.34 60.12,207.38 56.92,207.38" fill="#000"/>
<line x1="65.8" y1="203.5" x2="65.8" y2="208.71" stroke="#000" stroke-width="0.7" />
<line x1="64.4" y1="203.5" x2="67.2" y2="203.5" stroke="#000" stroke-width="0.7" />
<line x1="64.4" y1="208.71" x2="67.2" y2="208.71" stroke="#000" stroke-width="0.7" />
<polygon points="65.8,204.34 67.4,207.38 64.2,207.38" fill="#000"/>
<line x1="73.08" y1="181.21" x2="73.08" y2="186.42" stroke="#000" stroke-width="0.7" />
<line x1="71.68" y1="181.21" x2="74.48" y2="181.21" stroke="#000" stroke-width="0.7" />
<line x1="71.68" y1="186.42" x2="74.48" y2="186.42" stroke="#000" stroke-width="0.7" />
<polygon points="73.08,182.05 74.68,185.09 71.48,185.09" fill="#000"/>
<line x1="80.36" y1="184.1" x2="80.36" y2="189.31" stroke="#000" stroke-width="0.7" />
<line x1="78.96" y1="184.1" x2="81.76" y2="184.1" stroke="#000" stroke-width="0.7" />
<line x1="78.96" y1="189.31" x2="81.76" y2="189.31" stroke="#000" stroke-width="0.7" />
<polygon points="80.36,184.95 81.96,187.99 78.76,187.99" fill="#000"/>
<line x1="87.64" y1="186.42" x2="87.64" y2="191.63" stroke="#000" stroke-width="0.7" />
<line x1="86.24" y1="186.42" x2="89.04" y2="186.42" stroke="#000" stroke-width="0.7" />
<line x1="86.24" y1="191.63" x2="89.04" y2="191.63" stroke="#000" stroke-width="0.7" />
<polygon points="87.64,187.26 89.24,190.3 86.04,190.3" fill="#000"/>
<line x1="94.92" y1="212.65" x2="94.92" y2="215.77" stroke="#000" stroke-width="0.7" />
<line x1="93.52" y1="212.65" x2="96.32" y2="212.65" stroke="#000" stroke-width="0.7" />
<line x1="93.52" y1="215.77" x2="96.32" y2="215.77" stroke="#000" stroke-width="0.7" />
<polygon points="94.92,212.45 96.52,215.49 93.32,215.49" fill="#000"/>
<line x1="102.2" y1="213.52" x2="102.2" y2="216.64" stroke="#000" stroke-width="0.7" />
<line x1="100.8" y1="213.52" x2="103.6" y2="213.52" stroke="#000" stroke-width="0.7" />
<line x1="100.8" y1="216.64" x2="103.6" y2="216.64" stroke="#000" stroke-width="0.7" />
<polygon points="102.2,213.32 103.8,216.36 100.6,216.36" fill="#000"/>
<line x1="109.48" y1="213.23" x2="109.48" y2="216.35" stroke="#000" stroke-width="0.7" />
<line x1="108.08" y1="213.23" x2="110.88" y2="213.23" stroke="#000" stroke-width="0.7" />
<line x1="108.08" y1="216.35" x2="110.88" y2="216.35" stroke="#000" stroke-width="0.7" />
<polygon points="109.48,213.03 111.08,216.07 107.88,216.07" fill="#000"/>
<polyline points="29.4,189.6 36.68,187.29 43.96,187.58 51.24,202.63 58.52,204.08 65.8,204.95 73.08,180.92 80.36,183.23 87.64,183.23 94.92,213.63 102.2,214.21 109.48,214.21" fill="none" stroke="#ff1414" stroke-width="1.05" stroke-linejoin="round"/>
<line x1="29.4" y1="186.42" x2="29.4" y2="192.79" stroke="#ff1414" stroke-width="0.7" />
<line x1="28" y1="186.42" x2="30.8" y2="186.42" stroke="#ff1414" stroke-width="0.7" />
<line x1="28" y1="192.79" x2="30.8" y2="192.79" stroke="#ff1414" stroke-width="0.7" />
<rect x="27.64" y="187.85" width="3.51" height="3.51" fill="#ff1414" stroke="none" stroke-width="0.6" />
<line x1="36.68" y1="184.1" x2="36.68" y2="190.47" stroke="#ff1414" stroke-width="0.7" />
<line x1="35.28" y1="184.1" x2="38.08" y2="184.1" stroke="#ff1414" stroke-width="0.7" />
<line x1="35.28" y1="190.47" x2="38.08" y2="190.47" stroke="#ff1414" stroke-width="0.7" />
<rect x="34.92" y="185.53" width="3.51" height="3.51" fill="#ff1414" stroke="none" stroke-width="0.6" />
<line x1="43.96" y1="184.39" x2="43.96" y2="190.76" stroke="#ff1414" stroke-width="0.7" />
<line x1="42.56" y1="184.39" x2="45.36" y2="184.39" stroke="#ff1414" stroke-width="0.7" />
<line x1="42.56" y1="190.76" x2="45.36" y2="190.76" stroke="#ff1414" stroke-width="0.7" />
<rect x="42.2" y="185.82" width="3.51" height="3.51" fill="#ff1414" stroke="none" stroke-width="0.6" />
<line x1="51.24" y1="199.45" x2="51.24" y2="205.81" stroke="#ff1414" stroke-width="0.7" />
<line x1="49.84" y1="199.45" x2="52.64" y2="199.45" stroke="#ff1414" stroke-width="0.7" />
<line x1="49.84" y1="205.81" x2="52.64" y2="205.81" stroke="#ff1414" stroke-width="0.7" />
<rect x="49.48" y="200.88" width="3.51" height="3.51" fill="#ff1414" stroke="none" stroke-width="0.6" />
<line x1="58.52" y1="200.89" x2="58.52" y2="207.26" stroke="#ff1414" stroke-width="0.7" />
<line x1="57.12" y1="200.89" x2="59.92" y2="200.89" stroke="#ff1414" stroke-width="0.7" />
<line x1="57.12" y1="207.26" x2="59.92" y2="207.26" stroke="#ff1414" stroke-width="0.7" />
<rect x="56.76" y="202.32" width="3.51" height="3.51" fill="#ff1414" stroke="none" stroke-width="0.6" />
<line x1="65.8" y1="201.76" x2="65.8" y2="208.13" stroke="#ff1414" stroke-width="0.7" />
<line x1="64.4" y1="201.76" x2="67.2" y2="201.76" stroke="#ff1414" stroke-width="0.7" />
<line x1="64.4" y1="208.13" x2="67.2" y2="208.13" stroke="#ff1414" stroke-width="0.7" />
<rect x="64.05" y="203.19" width="3.51" height="3.51" fill="#ff1414" stroke="none" stroke-width="0.6" />
<line x1="73.08" y1="177.73" x2="73.08" y2="184.1" stroke="#ff1414" stroke-width="0.7" />
<line x1="71.68" y1="177.73" x2="74.48" y2="177.73" stroke="#ff1414" stroke-width="0.7" />
<line x1="71.68" y1="184.1" x2="74.48" y2="184.1" stroke="#ff1414" stroke-width="0.7" />
<rect x="71.33" y="179.16" width="3.51" height="3.51" fill="#ff1414" stroke="none" stroke-width="0.6" />
<line x1="80.36" y1="180.05" x2="80.36" y2="186.42" stroke="#ff1414" stroke-width="0.7" />
<line x1="78.96" y1="180.05" x2="81.76" y2="180.05" stroke="#ff1414" stroke-width="0.7" />
<line x1="78.96" y1="186.42" x2="81.76" y2="186.42" stroke="#ff1414" stroke-width="0.7" />
<rect x="78.61" y="181.48" width="3.51" height="3.51" fill="#ff1414" stroke="none" stroke-width="0.6" />
<line x1="87.64" y1="180.05" x2="87.64" y2="186.42" stroke="#ff1414" stroke-width="0.7" />
<line x1="86.24" y1="180.05" x2="89.04" y2="180.05" stroke="#ff1414" stroke-width="0.7" />
<line x1="86.24" y1="186.42" x2="89.04" y2="186.42" stroke="#ff1414" stroke-width="0.7" />
<rect x="85.88" y="181.48" width="3.51" height="3.51" fill="#ff1414" stroke="none" stroke-width="0.6" />
<line x1="94.92" y1="211.72" x2="94.92" y2="215.54" stroke="#ff1414" stroke-width="0.7" />
<line x1="93.52" y1="211.72" x2="96.32" y2="211.72" stroke="#ff1414" stroke-width="0.7" />
<line x1="93.52" y1="215.54" x2="96.32" y2="215.54" stroke="#ff1414" stroke-width="0.7" />
<rect x="93.16" y="211.88" width="3.51" height="3.51" fill="#ff1414" stroke="none" stroke-width="0.6" />
<line x1="102.2" y1="212.3" x2="102.2" y2="216.12" stroke="#ff1414" stroke-width="0.7" />
<line x1="100.8" y1="212.3" x2="103.6" y2="212.3" stroke="#ff1414" stroke-width="0.7" />
<line x1="100.8" y1="216.12" x2="103.6" y2="216.12" stroke="#ff1414" stroke-width="0.7" />
<rect x="100.44" y="212.46" width="3.51" height="3.51" fill="#ff1414" stroke="none" stroke-width="0.6" />
<line x1="109.48" y1="212.3" x2="109.48" y2="216.12" stroke="#ff1414" stroke-width="0.7" />
<line x1="108.08" y1="212.3" x2="110.88" y2="212.3" stroke="#ff1414" stroke-width="0.7" />
<line x1="108.08" y1="216.12" x2="110.88" y2="216.12" stroke="#ff1414" stroke-width="0.7" />
<rect x="107.72" y="212.46" width="3.51" height="3.51" fill="#ff1414" stroke="none" stroke-width="0.6" />
<polyline points="29.4,171.36 36.68,174.55 43.96,175.71 51.24,193.37 58.52,191.92 65.8,191.63 73.08,165 80.36,158.63 87.64,154.86 94.92,212.18 102.2,213.34 109.48,214.21" fill="none" stroke="#19c219" stroke-width="1.05" stroke-linejoin="round"/>
<line x1="29.4" y1="168.18" x2="29.4" y2="174.55" stroke="#19c219" stroke-width="0.7" />
<line x1="28" y1="168.18" x2="30.8" y2="168.18" stroke="#19c219" stroke-width="0.7" />
<line x1="28" y1="174.55" x2="30.8" y2="174.55" stroke="#19c219" stroke-width="0.7" />
<circle cx="29.4" cy="171.36" r="1.75" fill="#19c219"/>
<line x1="36.68" y1="171.36" x2="36.68" y2="177.73" stroke="#19c219" stroke-width="0.7" />
<line x1="35.28" y1="171.36" x2="38.08" y2="171.36" stroke="#19c219" stroke-width="0.7" />
<line x1="35.28" y1="177.73" x2="38.08" y2="177.73" stroke="#19c219" stroke-width="0.7" />
<circle cx="36.68" cy="174.55" r="1.75" fill="#19c219"/>
<line x1="43.96" y1="172.52" x2="43.96" y2="178.89" stroke="#19c219" stroke-width="0.7" />
<line x1="42.56" y1="172.52" x2="45.36" y2="172.52" stroke="#19c219" stroke-width="0.7" />
<line x1="42.56" y1="178.89" x2="45.36" y2="178.89" stroke="#19c219" stroke-width="0.7" />
<circle cx="43.96" cy="175.71" r="1.75" fill="#19c219"/>
<line x1="51.24" y1="190.18" x2="51.24" y2="196.55" stroke="#19c219" stroke-width="0.7" />
<line x1="49.84" y1="190.18" x2="52.64" y2="190.18" stroke="#19c219" stroke-width="0.7" />
<line x1="49.84" y1="196.55" x2="52.64" y2="196.55" stroke="#19c219" stroke-width="0.7" />
<circle cx="51.24" cy="193.37" r="1.75" fill="#19c219"/>
<line x1="58.52" y1="188.73" x2="58.52" y2="195.1" stroke="#19c219" stroke-width="0.7" />
<line x1="57.12" y1="188.73" x2="59.92" y2="188.73" stroke="#19c219" stroke-width="0.7" />
<line x1="57.12" y1="195.1" x2="59.92" y2="195.1" stroke="#19c219" stroke-width="0.7" />
<circle cx="58.52" cy="191.92" r="1.75" fill="#19c219"/>
<line x1="65.8" y1="188.44" x2="65.8" y2="194.81" stroke="#19c219" stroke-width="0.7" />
<line x1="64.4" y1="188.44" x2="67.2" y2="188.44" stroke="#19c219" stroke-width="0.7" />
<line x1="64.4" y1="194.81" x2="67.2" y2="194.81" stroke="#19c219" stroke-width="0.7" />
<circle cx="65.8" cy="191.63" r="1.75" fill="#19c219"/>
<line x1="73.08" y1="161.81" x2="73.08" y2="168.18" stroke="#19c219" stroke-width="0.7" />
<line x1="71.68" y1="161.81" x2="74.48" y2="161.81" stroke="#19c219" stroke-width="0.7" />
<line x1="71.68" y1="168.18" x2="74.48" y2="168.18" stroke="#19c219" stroke-width="0.7" />
<circle cx="73.08" cy="165" r="1.75" fill="#19c219"/>
<line x1="80.36" y1="155.44" x2="80.36" y2="161.81" stroke="#19c219" stroke-width="0.7" />
<line x1="78.96" y1="155.44" x2="81.76" y2="155.44" stroke="#19c219" stroke-width="0.7" />
<line x1="78.96" y1="161.81" x2="81.76" y2="161.81" stroke="#19c219" stroke-width="0.7" />
<circle cx="80.36" cy="158.63" r="1.75" fill="#19c219"/>
<line x1="87.64" y1="151.68" x2="87.64" y2="158.05" stroke="#19c219" stroke-width="0.7" />
<line x1="86.24" y1="151.68" x2="89.04" y2="151.68" stroke="#19c219" stroke-width="0.7" />
<line x1="86.24" y1="158.05" x2="89.04" y2="158.05" stroke="#19c219" stroke-width="0.7" />
<circle cx="87.64" cy="154.86" r="1.75" fill="#19c219"/>
<line x1="94.92" y1="210.27" x2="94.92" y2="214.09" stroke="#19c219" stroke-width="0.7" />
<line x1="93.52" y1="210.27" x2="96.32" y2="210.27" stroke="#19c219" stroke-width="0.7" />
<line x1="93.52" y1="214.09" x2="96.32" y2="214.09" stroke="#19c219" stroke-width="0.7" />
<circle cx="94.92" cy="212.18" r="1.75" fill="#19c219"/>
<line x1="102.2" y1="211.43" x2="102.2" y2="215.25" stroke="#19c219" stroke-width="0.7" />
<line x1="100.8" y1="211.43" x2="103.6" y2="211.43" stroke="#19c219" stroke-width="0.7" />
<line x1="100.8" y1="215.25" x2="103.6" y2="215.25" stroke="#19c219" stroke-width="0.7" />
<circle cx="102.2" cy="213.34" r="1.75" fill="#19c219"/>
<line x1="109.48" y1="212.3" x2="109.48" y2="216.12" stroke="#19c219" stroke-width="0.7" />
<line x1="108.08" y1="212.3" x2="110.88" y2="212.3" stroke="#19c219" stroke-width="0.7" />
<line x1="108.08" y1="216.12" x2="110.88" y2="216.12" stroke="#19c219" stroke-width="0.7" />
<circle cx="109.48" cy="214.21" r="1.75" fill="#19c219"/>
<line x1="105.4" y1="158.4" x2="113.4" y2="158.4" stroke="#19c219" stroke-width="0.8" />
<circle cx="109.3" cy="158.4" r="1.5" fill="#19c219"/>
<text x="117.8" y="160.5" font-size="5.9" font-weight="normal" text-anchor="start" fill="#111" class="lg">OE</text>
<line x1="105.4" y1="168.7" x2="113.4" y2="168.7" stroke="#ff1414" stroke-width="0.8" />
<rect x="107.95" y="167.35" width="2.7" height="2.7" fill="#ff1414" stroke="none" stroke-width="0.6" />
<text x="117.8" y="170.8" font-size="5.9" font-weight="normal" text-anchor="start" fill="#111" class="lg">Control</text>
<line x1="105.4" y1="178.8" x2="113.4" y2="178.8" stroke="#000" stroke-width="0.8" />
<polygon points="109.3,177.15 110.8,180 107.8,180" fill="#000"/>
<text x="117.8" y="180.9" font-size="5.9" font-weight="normal" text-anchor="start" fill="#111" class="lg">OE+shRNA</text>
<text x="152.6" y="138" font-size="9.6" font-weight="normal" text-anchor="start" fill="#111" class="pl">E</text>
<line x1="183.1" y1="141.16" x2="183.1" y2="214.6" stroke="#000" stroke-width="0.8" />
<line x1="182.7" y1="214.2" x2="327.5" y2="214.2" stroke="#000" stroke-width="0.8" />
<line x1="179.9" y1="214.2" x2="183.1" y2="214.2" stroke="#000" stroke-width="0.7" />
<text x="178.8" y="216.5" font-size="5.1" font-weight="bold" text-anchor="end" fill="#111" >0</text>
<line x1="179.9" y1="196.04" x2="183.1" y2="196.04" stroke="#000" stroke-width="0.7" />
<text x="178.8" y="198.34" font-size="5.1" font-weight="bold" text-anchor="end" fill="#111" >20</text>
<line x1="179.9" y1="177.88" x2="183.1" y2="177.88" stroke="#000" stroke-width="0.7" />
<text x="178.8" y="180.18" font-size="5.1" font-weight="bold" text-anchor="end" fill="#111" >40</text>
<line x1="179.9" y1="159.72" x2="183.1" y2="159.72" stroke="#000" stroke-width="0.7" />
<text x="178.8" y="162.02" font-size="5.1" font-weight="bold" text-anchor="end" fill="#111" >60</text>
<line x1="179.9" y1="141.56" x2="183.1" y2="141.56" stroke="#000" stroke-width="0.7" />
<text x="178.8" y="143.86" font-size="5.1" font-weight="bold" text-anchor="end" fill="#111" >80</text>
<text x="170.4" y="179.6" font-size="5.62" font-weight="bold" text-anchor="middle" fill="#111" transform="rotate(-90 170.4 179.6)" >Extracellular acidification rate</text>
<line x1="191.55" y1="149.37" x2="191.55" y2="152.46" stroke="#000" stroke-width="0.8" />
<line x1="189.25" y1="149.37" x2="193.85" y2="149.37" stroke="#000" stroke-width="0.8" />
<rect x="187.65" y="152.66" width="7.8" height="61.54" fill="#000" stroke="#000" stroke-width="0.9" />
<line x1="191.55" y1="214.2" x2="191.55" y2="216.9" stroke="#000" stroke-width="0.75" />
<text x="193.45" y="220.9" font-size="5.6" font-weight="bold" text-anchor="end" fill="#111" transform="rotate(-45 193.45 220.9)" >Control</text>
<line x1="204.7" y1="170.43" x2="204.7" y2="173.79" stroke="#000" stroke-width="0.8" />
<line x1="202.4" y1="170.43" x2="207" y2="170.43" stroke="#000" stroke-width="0.8" />
<rect x="200.8" y="173.99" width="7.8" height="40.21" fill="#a9a9b1" stroke="#000" stroke-width="0.9" />
<line x1="204.7" y1="214.2" x2="204.7" y2="216.9" stroke="#000" stroke-width="0.75" />
<text x="206.6" y="220.9" font-size="5.6" font-weight="bold" text-anchor="end" fill="#111" transform="rotate(-45 206.6 220.9)" >KD</text>
<line x1="217.85" y1="151.82" x2="217.85" y2="155.18" stroke="#000" stroke-width="0.8" />
<line x1="215.55" y1="151.82" x2="220.15" y2="151.82" stroke="#000" stroke-width="0.8" />
<rect x="213.95" y="155.38" width="7.8" height="58.82" fill="#8b8b8b" stroke="#000" stroke-width="0.9" />
<line x1="217.85" y1="214.2" x2="217.85" y2="216.9" stroke="#000" stroke-width="0.75" />
<text x="219.75" y="220.9" font-size="5.6" font-weight="bold" text-anchor="end" fill="#111" transform="rotate(-45 219.75 220.9)" >KD+HS3ST1 WT</text>
<line x1="231" y1="178.33" x2="231" y2="181.97" stroke="#000" stroke-width="0.8" />
<line x1="228.7" y1="178.33" x2="233.3" y2="178.33" stroke="#000" stroke-width="0.8" />
<rect x="227.1" y="182.17" width="7.8" height="32.03" fill="#dcdcdc" stroke="#000" stroke-width="0.9" />
<line x1="231" y1="214.2" x2="231" y2="216.9" stroke="#000" stroke-width="0.75" />
<text x="232.9" y="220.9" font-size="5.6" font-weight="bold" text-anchor="end" fill="#111" transform="rotate(-45 232.9 220.9)" >KD+E86A mutant</text>
<line x1="244.15" y1="175.34" x2="244.15" y2="178.33" stroke="#000" stroke-width="0.8" />
<line x1="241.85" y1="175.34" x2="246.45" y2="175.34" stroke="#000" stroke-width="0.8" />
<rect x="240.25" y="178.53" width="7.8" height="35.67" fill="#6e6e6e" stroke="#000" stroke-width="0.9" />
<line x1="244.15" y1="214.2" x2="244.15" y2="216.9" stroke="#000" stroke-width="0.75" />
<text x="246.05" y="220.9" font-size="5.6" font-weight="bold" text-anchor="end" fill="#111" transform="rotate(-45 246.05 220.9)" >KD+K119A mutant</text>
<line x1="265.85" y1="165.26" x2="265.85" y2="167.89" stroke="#000" stroke-width="0.8" />
<line x1="263.55" y1="165.26" x2="268.15" y2="165.26" stroke="#000" stroke-width="0.8" />
<rect x="261.95" y="168.09" width="7.8" height="46.11" fill="#000" stroke="#000" stroke-width="0.9" />
<line x1="265.85" y1="214.2" x2="265.85" y2="216.9" stroke="#000" stroke-width="0.75" />
<text x="267.75" y="220.9" font-size="5.6" font-weight="bold" text-anchor="end" fill="#111" transform="rotate(-45 267.75 220.9)" >Control</text>
<line x1="278.95" y1="182.15" x2="278.95" y2="185.14" stroke="#000" stroke-width="0.8" />
<line x1="276.65" y1="182.15" x2="281.25" y2="182.15" stroke="#000" stroke-width="0.8" />
<rect x="275.05" y="185.34" width="7.8" height="28.86" fill="#a9a9b1" stroke="#000" stroke-width="0.9" />
<line x1="278.95" y1="214.2" x2="278.95" y2="216.9" stroke="#000" stroke-width="0.75" />
<text x="280.85" y="220.9" font-size="5.6" font-weight="bold" text-anchor="end" fill="#111" transform="rotate(-45 280.85 220.9)" >KD</text>
<line x1="292.05" y1="163.53" x2="292.05" y2="166.53" stroke="#000" stroke-width="0.8" />
<line x1="289.75" y1="163.53" x2="294.35" y2="163.53" stroke="#000" stroke-width="0.8" />
<rect x="288.15" y="166.73" width="7.8" height="47.47" fill="#8b8b8b" stroke="#000" stroke-width="0.9" />
<line x1="292.05" y1="214.2" x2="292.05" y2="216.9" stroke="#000" stroke-width="0.75" />
<text x="293.95" y="220.9" font-size="5.6" font-weight="bold" text-anchor="end" fill="#111" transform="rotate(-45 293.95 220.9)" >KD+HS3ST1 WT</text>
<line x1="305.15" y1="183.96" x2="305.15" y2="186.96" stroke="#000" stroke-width="0.8" />
<line x1="302.85" y1="183.96" x2="307.45" y2="183.96" stroke="#000" stroke-width="0.8" />
<rect x="301.25" y="187.16" width="7.8" height="27.04" fill="#dcdcdc" stroke="#000" stroke-width="0.9" />
<line x1="305.15" y1="214.2" x2="305.15" y2="216.9" stroke="#000" stroke-width="0.75" />
<text x="307.05" y="220.9" font-size="5.6" font-weight="bold" text-anchor="end" fill="#111" transform="rotate(-45 307.05 220.9)" >KD+E86A mutant</text>
<line x1="318.25" y1="183.06" x2="318.25" y2="186.05" stroke="#000" stroke-width="0.8" />
<line x1="315.95" y1="183.06" x2="320.55" y2="183.06" stroke="#000" stroke-width="0.8" />
<rect x="314.35" y="186.25" width="7.8" height="27.95" fill="#6e6e6e" stroke="#000" stroke-width="0.9" />
<line x1="318.25" y1="214.2" x2="318.25" y2="216.9" stroke="#000" stroke-width="0.75" />
<text x="320.15" y="220.9" font-size="5.6" font-weight="bold" text-anchor="end" fill="#111" transform="rotate(-45 320.15 220.9)" >KD+K119A mutant</text>
<text x="211.3" y="127.5" font-size="7.9" font-weight="bold" text-anchor="middle" fill="#111" >H1560</text>
<text x="291" y="142.4" font-size="7.9" font-weight="bold" text-anchor="middle" fill="#111" >A549</text>
<polyline points="191.2,145.4 191.2,142.2 206,142.2 206,145.4" fill="none" stroke="#000" stroke-width="0.8" stroke-linejoin="round"/>
<text x="197.9" y="142.4" font-size="7" font-weight="bold" text-anchor="middle" fill="#111" class="st">**</text>
<polyline points="205.4,141.3 205.4,138.8 218.5,138.8 218.5,141.3" fill="none" stroke="#000" stroke-width="0.8" stroke-linejoin="round"/>
<text x="211.5" y="139.6" font-size="7" font-weight="bold" text-anchor="middle" fill="#111" class="st">**</text>
<polyline points="217.9,136.2 217.9,134.6 235.7,134.6 235.7,136.2" fill="none" stroke="#000" stroke-width="0.8" stroke-linejoin="round"/>
<line x1="229.7" y1="136.2" x2="244.8" y2="136.2" stroke="#666" stroke-width="0.8" />
<text x="228" y="135.9" font-size="7" font-weight="bold" text-anchor="middle" fill="#111" class="st">**</text>
<polyline points="265.2,161.5 265.2,158 279.9,158 279.9,161.5" fill="none" stroke="#000" stroke-width="0.8" stroke-linejoin="round"/>
<text x="271.8" y="158.6" font-size="7" font-weight="bold" text-anchor="middle" fill="#111" class="st">**</text>
<polyline points="278.3,156.9 278.3,154.4 292.5,154.4 292.5,156.9" fill="none" stroke="#000" stroke-width="0.8" stroke-linejoin="round"/>
<text x="285.4" y="155.5" font-size="7" font-weight="bold" text-anchor="middle" fill="#111" class="st">**</text>
<polyline points="291.5,152 291.5,150.3 310.1,150.3 310.1,152.4" fill="none" stroke="#000" stroke-width="0.8" stroke-linejoin="round"/>
<line x1="303.1" y1="152.4" x2="318.8" y2="152.4" stroke="#666" stroke-width="0.8" />
<text x="302.2" y="151.5" font-size="7" font-weight="bold" text-anchor="middle" fill="#111" class="st">**</text>
<text x="321" y="138" font-size="9.6" font-weight="normal" text-anchor="start" fill="#111" class="pl">F</text>
<line x1="356.5" y1="143.62" x2="356.5" y2="216.8" stroke="#000" stroke-width="0.8" />
<line x1="356.1" y1="216.4" x2="466" y2="216.4" stroke="#000" stroke-width="0.8" />
<line x1="353.3" y1="216.4" x2="356.5" y2="216.4" stroke="#000" stroke-width="0.7" />
<text x="352.2" y="218.7" font-size="5.1" font-weight="bold" text-anchor="end" fill="#111" >0</text>
<line x1="353.3" y1="192.28" x2="356.5" y2="192.28" stroke="#000" stroke-width="0.7" />
<text x="352.2" y="194.58" font-size="5.1" font-weight="bold" text-anchor="end" fill="#111" >50</text>
<line x1="353.3" y1="168.15" x2="356.5" y2="168.15" stroke="#000" stroke-width="0.7" />
<text x="352.2" y="170.45" font-size="5.1" font-weight="bold" text-anchor="end" fill="#111" >100</text>
<line x1="353.3" y1="144.03" x2="356.5" y2="144.03" stroke="#000" stroke-width="0.7" />
<text x="352.2" y="146.33" font-size="5.1" font-weight="bold" text-anchor="end" fill="#111" >150</text>
<text x="340.2" y="180.3" font-size="5.64" font-weight="bold" text-anchor="middle" fill="#111" transform="rotate(-90 340.2 180.3)" >Extracellular acidification rate</text>
<line x1="367.25" y1="183.83" x2="367.25" y2="187.45" stroke="#000" stroke-width="0.8" />
<line x1="364.95" y1="183.83" x2="369.55" y2="183.83" stroke="#000" stroke-width="0.8" />
<rect x="362.65" y="187.65" width="9.2" height="28.75" fill="#000" stroke="#000" stroke-width="0.9" />
<line x1="367.25" y1="216.4" x2="367.25" y2="219.1" stroke="#000" stroke-width="0.75" />
<text x="369.15" y="223.6" font-size="5.6" font-weight="bold" text-anchor="end" fill="#111" transform="rotate(-45 369.15 223.6)" >Control</text>
<line x1="382.8" y1="165.01" x2="382.8" y2="168.63" stroke="#000" stroke-width="0.8" />
<line x1="380.5" y1="165.01" x2="385.1" y2="165.01" stroke="#000" stroke-width="0.8" />
<rect x="378.2" y="168.83" width="9.2" height="47.57" fill="#a9a9b1" stroke="#000" stroke-width="0.9" />
<line x1="382.8" y1="216.4" x2="382.8" y2="219.1" stroke="#000" stroke-width="0.75" />
<text x="384.7" y="223.6" font-size="5.6" font-weight="bold" text-anchor="end" fill="#111" transform="rotate(-45 384.7 223.6)" >OE</text>
<line x1="398.35" y1="182.05" x2="398.35" y2="185.52" stroke="#000" stroke-width="0.8" />
<line x1="396.05" y1="182.05" x2="400.65" y2="182.05" stroke="#000" stroke-width="0.8" />
<rect x="393.75" y="185.72" width="9.2" height="30.68" fill="#8b8b8b" stroke="#000" stroke-width="0.9" />
<line x1="398.35" y1="216.4" x2="398.35" y2="219.1" stroke="#000" stroke-width="0.75" />
<text x="400.25" y="223.6" font-size="5.6" font-weight="bold" text-anchor="end" fill="#111" transform="rotate(-45 400.25 223.6)" >OE+shRNA</text>
<line x1="424.55" y1="188.9" x2="424.55" y2="192.28" stroke="#000" stroke-width="0.8" />
<line x1="422.25" y1="188.9" x2="426.85" y2="188.9" stroke="#000" stroke-width="0.8" />
<rect x="419.95" y="192.47" width="9.2" height="23.93" fill="#000" stroke="#000" stroke-width="0.9" />
<line x1="424.55" y1="216.4" x2="424.55" y2="219.1" stroke="#000" stroke-width="0.75" />
<text x="426.45" y="223.6" font-size="5.6" font-weight="bold" text-anchor="end" fill="#111" transform="rotate(-45 426.45 223.6)" >Control</text>
<line x1="440.1" y1="175.24" x2="440.1" y2="178.28" stroke="#000" stroke-width="0.8" />
<line x1="437.8" y1="175.24" x2="442.4" y2="175.24" stroke="#000" stroke-width="0.8" />
<rect x="435.5" y="178.48" width="9.2" height="37.92" fill="#a9a9b1" stroke="#000" stroke-width="0.9" />
<line x1="440.1" y1="216.4" x2="440.1" y2="219.1" stroke="#000" stroke-width="0.75" />
<text x="442" y="223.6" font-size="5.6" font-weight="bold" text-anchor="end" fill="#111" transform="rotate(-45 442 223.6)" >OE</text>
<line x1="455.65" y1="190.83" x2="455.65" y2="193.48" stroke="#000" stroke-width="0.8" />
<line x1="453.35" y1="190.83" x2="457.95" y2="190.83" stroke="#000" stroke-width="0.8" />
<rect x="451.05" y="193.68" width="9.2" height="22.72" fill="#8b8b8b" stroke="#000" stroke-width="0.9" />
<line x1="455.65" y1="216.4" x2="455.65" y2="219.1" stroke="#000" stroke-width="0.75" />
<text x="457.55" y="223.6" font-size="5.6" font-weight="bold" text-anchor="end" fill="#111" transform="rotate(-45 457.55 223.6)" >OE+shRNA</text>
<text x="379.2" y="147.1" font-size="7.9" font-weight="bold" text-anchor="middle" fill="#111" >H1560</text>
<text x="437.8" y="146.8" font-size="7.9" font-weight="bold" text-anchor="middle" fill="#111" >A549</text>
<polyline points="367.3,162.9 367.3,159.4 382.5,159.4 382.5,162.9" fill="none" stroke="#000" stroke-width="0.8" stroke-linejoin="round"/>
<text x="374.4" y="159.8" font-size="7" font-weight="bold" text-anchor="middle" fill="#111" class="st">**</text>
<polyline points="384.1,162.9 384.1,159.4 399.7,159.4 399.7,162.9" fill="none" stroke="#000" stroke-width="0.8" stroke-linejoin="round"/>
<text x="391.5" y="159.8" font-size="7" font-weight="bold" text-anchor="middle" fill="#111" class="st">**</text>
<polyline points="423.9,172.4 423.9,168.9 439.1,168.9 439.1,172.4" fill="none" stroke="#000" stroke-width="0.8" stroke-linejoin="round"/>
<text x="431" y="169.3" font-size="7" font-weight="bold" text-anchor="middle" fill="#111" class="st">**</text>
<polyline points="441.1,172.4 441.1,168.9 456.2,168.9 456.2,172.4" fill="none" stroke="#000" stroke-width="0.8" stroke-linejoin="round"/>
<text x="447.9" y="169.3" font-size="7" font-weight="bold" text-anchor="middle" fill="#111" class="st">**</text>
<text x="5.6" y="252" font-size="9.6" font-weight="normal" text-anchor="start" fill="#111" class="pl">G</text>
<line x1="30.3" y1="258.1" x2="30.3" y2="331.4" stroke="#000" stroke-width="0.8" />
<line x1="29.9" y1="331" x2="152" y2="331" stroke="#000" stroke-width="0.8" />
<line x1="27.1" y1="331" x2="30.3" y2="331" stroke="#000" stroke-width="0.7" />
<text x="26" y="333.3" font-size="5.1" font-weight="bold" text-anchor="end" fill="#111" >0</text>
<line x1="27.1" y1="312.88" x2="30.3" y2="312.88" stroke="#000" stroke-width="0.7" />
<text x="26" y="315.18" font-size="5.1" font-weight="bold" text-anchor="end" fill="#111" >50</text>
<line x1="27.1" y1="294.75" x2="30.3" y2="294.75" stroke="#000" stroke-width="0.7" />
<text x="26" y="297.05" font-size="5.1" font-weight="bold" text-anchor="end" fill="#111" >100</text>
<line x1="27.1" y1="276.62" x2="30.3" y2="276.62" stroke="#000" stroke-width="0.7" />
<text x="26" y="278.93" font-size="5.1" font-weight="bold" text-anchor="end" fill="#111" >150</text>
<line x1="27.1" y1="258.5" x2="30.3" y2="258.5" stroke="#000" stroke-width="0.7" />
<text x="26" y="260.8" font-size="5.1" font-weight="bold" text-anchor="end" fill="#111" >200</text>
<text x="14.2" y="295" font-size="5.97" font-weight="bold" text-anchor="middle" fill="#111" transform="rotate(-90 14.2 295)" >OCR (pmol/min)</text>
<line x1="38.05" y1="271.01" x2="38.05" y2="274.09" stroke="#000" stroke-width="0.8" />
<line x1="35.75" y1="271.01" x2="40.35" y2="271.01" stroke="#000" stroke-width="0.8" />
<rect x="35.15" y="274.29" width="5.8" height="56.71" fill="#000" stroke="#000" stroke-width="0.9" />
<line x1="38.05" y1="331" x2="38.05" y2="333.7" stroke="#000" stroke-width="0.75" />
<text x="39.95" y="339.7" font-size="5.6" font-weight="bold" text-anchor="end" fill="#111" transform="rotate(-45 39.95 339.7)" >Control</text>
<line x1="49.13" y1="287.68" x2="49.13" y2="291.12" stroke="#000" stroke-width="0.8" />
<line x1="46.83" y1="287.68" x2="51.43" y2="287.68" stroke="#000" stroke-width="0.8" />
<rect x="46.23" y="291.32" width="5.8" height="39.67" fill="#a9a9b1" stroke="#000" stroke-width="0.9" />
<line x1="49.13" y1="331" x2="49.13" y2="333.7" stroke="#000" stroke-width="0.75" />
<text x="51.03" y="339.7" font-size="5.6" font-weight="bold" text-anchor="end" fill="#111" transform="rotate(-45 51.03 339.7)" >KD</text>
<line x1="60.21" y1="277.53" x2="60.21" y2="280.98" stroke="#000" stroke-width="0.8" />
<line x1="57.91" y1="277.53" x2="62.51" y2="277.53" stroke="#000" stroke-width="0.8" />
<rect x="57.31" y="281.18" width="5.8" height="49.82" fill="#8b8b8b" stroke="#000" stroke-width="0.9" />
<line x1="60.21" y1="331" x2="60.21" y2="333.7" stroke="#000" stroke-width="0.75" />
<text x="62.11" y="339.7" font-size="5.6" font-weight="bold" text-anchor="end" fill="#111" transform="rotate(-45 62.11 339.7)" >KD+HS3ST1 WT</text>
<line x1="71.29" y1="287.5" x2="71.29" y2="290.58" stroke="#000" stroke-width="0.8" />
<line x1="68.99" y1="287.5" x2="73.59" y2="287.5" stroke="#000" stroke-width="0.8" />
<rect x="68.39" y="290.78" width="5.8" height="40.22" fill="#dcdcdc" stroke="#000" stroke-width="0.9" />
<line x1="71.29" y1="331" x2="71.29" y2="333.7" stroke="#000" stroke-width="0.75" />
<text x="73.19" y="339.7" font-size="5.6" font-weight="bold" text-anchor="end" fill="#111" transform="rotate(-45 73.19 339.7)" >KD+E86A mutant</text>
<line x1="82.37" y1="289.68" x2="82.37" y2="292.03" stroke="#000" stroke-width="0.8" />
<line x1="80.07" y1="289.68" x2="84.67" y2="289.68" stroke="#000" stroke-width="0.8" />
<rect x="79.47" y="292.23" width="5.8" height="38.77" fill="#6e6e6e" stroke="#000" stroke-width="0.9" />
<line x1="82.37" y1="331" x2="82.37" y2="333.7" stroke="#000" stroke-width="0.75" />
<text x="84.27" y="339.7" font-size="5.6" font-weight="bold" text-anchor="end" fill="#111" transform="rotate(-45 84.27 339.7)" >KD+K119A mutant</text>
<line x1="100.95" y1="279.34" x2="100.95" y2="282.43" stroke="#000" stroke-width="0.8" />
<line x1="98.65" y1="279.34" x2="103.25" y2="279.34" stroke="#000" stroke-width="0.8" />
<rect x="98.05" y="282.62" width="5.8" height="48.37" fill="#000" stroke="#000" stroke-width="0.9" />
<line x1="100.95" y1="331" x2="100.95" y2="333.7" stroke="#000" stroke-width="0.75" />
<text x="102.85" y="339.7" font-size="5.6" font-weight="bold" text-anchor="end" fill="#111" transform="rotate(-45 102.85 339.7)" >Control</text>
<line x1="111.98" y1="291.31" x2="111.98" y2="294.39" stroke="#000" stroke-width="0.8" />
<line x1="109.68" y1="291.31" x2="114.28" y2="291.31" stroke="#000" stroke-width="0.8" />
<rect x="109.08" y="294.59" width="5.8" height="36.41" fill="#a9a9b1" stroke="#000" stroke-width="0.9" />
<line x1="111.98" y1="331" x2="111.98" y2="333.7" stroke="#000" stroke-width="0.75" />
<text x="113.88" y="339.7" font-size="5.6" font-weight="bold" text-anchor="end" fill="#111" transform="rotate(-45 113.88 339.7)" >KD</text>
<line x1="123.01" y1="280.98" x2="123.01" y2="283.88" stroke="#000" stroke-width="0.8" />
<line x1="120.71" y1="280.98" x2="125.31" y2="280.98" stroke="#000" stroke-width="0.8" />
<rect x="120.11" y="284.07" width="5.8" height="46.92" fill="#8b8b8b" stroke="#000" stroke-width="0.9" />
<line x1="123.01" y1="331" x2="123.01" y2="333.7" stroke="#000" stroke-width="0.75" />
<text x="124.91" y="339.7" font-size="5.6" font-weight="bold" text-anchor="end" fill="#111" transform="rotate(-45 124.91 339.7)" >KD+HS3ST1 WT</text>
<line x1="134.04" y1="290.94" x2="134.04" y2="293.66" stroke="#000" stroke-width="0.8" />
<line x1="131.74" y1="290.94" x2="136.34" y2="290.94" stroke="#000" stroke-width="0.8" />
<rect x="131.14" y="293.86" width="5.8" height="37.14" fill="#dcdcdc" stroke="#000" stroke-width="0.9" />
<line x1="134.04" y1="331" x2="134.04" y2="333.7" stroke="#000" stroke-width="0.75" />
<text x="135.94" y="339.7" font-size="5.6" font-weight="bold" text-anchor="end" fill="#111" transform="rotate(-45 135.94 339.7)" >KD+E86A mutant</text>
<line x1="145.07" y1="292.21" x2="145.07" y2="294.75" stroke="#000" stroke-width="0.8" />
<line x1="142.77" y1="292.21" x2="147.37" y2="292.21" stroke="#000" stroke-width="0.8" />
<rect x="142.17" y="294.95" width="5.8" height="36.05" fill="#6e6e6e" stroke="#000" stroke-width="0.9" />
<line x1="145.07" y1="331" x2="145.07" y2="333.7" stroke="#000" stroke-width="0.75" />
<text x="146.97" y="339.7" font-size="5.6" font-weight="bold" text-anchor="end" fill="#111" transform="rotate(-45 146.97 339.7)" >KD+K119A mutant</text>
<text x="54.2" y="247.3" font-size="7.9" font-weight="bold" text-anchor="middle" fill="#111" >H1560</text>
<text x="141.9" y="257.6" font-size="7.9" font-weight="bold" text-anchor="middle" fill="#111" >A549</text>
<polyline points="36.4,265.7 36.4,262.3 51.2,262.3 51.2,265.7" fill="none" stroke="#000" stroke-width="0.8" stroke-linejoin="round"/>
<text x="43.5" y="262.7" font-size="7" font-weight="bold" text-anchor="middle" fill="#111" class="st">**</text>
<polyline points="50.6,261.3 50.6,258.9 63.7,258.9 63.7,261.3" fill="none" stroke="#000" stroke-width="0.8" stroke-linejoin="round"/>
<text x="57.2" y="259.6" font-size="7" font-weight="bold" text-anchor="middle" fill="#111" class="st">**</text>
<polyline points="63.7,256.4 63.7,254.8 76.8,254.8 76.8,256.4" fill="none" stroke="#000" stroke-width="0.8" stroke-linejoin="round"/>
<line x1="70.8" y1="256.4" x2="83.9" y2="256.4" stroke="#666" stroke-width="0.8" />
<text x="69.4" y="256" font-size="7" font-weight="bold" text-anchor="middle" fill="#111" class="st">**</text>
<polyline points="99.6,275 99.6,271.8 113.8,271.8 113.8,275" fill="none" stroke="#000" stroke-width="0.8" stroke-linejoin="round"/>
<text x="106.3" y="272.2" font-size="7" font-weight="bold" text-anchor="middle" fill="#111" class="st">**</text>
<polyline points="113.4,270.4 113.4,268 126.9,268 126.9,270.4" fill="none" stroke="#000" stroke-width="0.8" stroke-linejoin="round"/>
<text x="120.4" y="269.1" font-size="7" font-weight="bold" text-anchor="middle" fill="#111" class="st">**</text>
<polyline points="126.9,266.3 126.9,264.7 140.1,264.7 140.1,266.3" fill="none" stroke="#000" stroke-width="0.8" stroke-linejoin="round"/>
<line x1="133.6" y1="266.3" x2="146.7" y2="266.3" stroke="#666" stroke-width="0.8" />
<text x="132.2" y="265.7" font-size="7" font-weight="bold" text-anchor="middle" fill="#111" class="st">**</text>
<text x="163.1" y="262.8" font-size="9.6" font-weight="normal" text-anchor="start" fill="#111" class="pl">H</text>
<line x1="189.9" y1="266.53" x2="189.9" y2="340.2" stroke="#000" stroke-width="0.8" />
<line x1="189.5" y1="339.8" x2="298.3" y2="339.8" stroke="#000" stroke-width="0.8" />
<line x1="186.7" y1="339.8" x2="189.9" y2="339.8" stroke="#000" stroke-width="0.7" />
<text x="185.6" y="342.1" font-size="5.1" font-weight="bold" text-anchor="end" fill="#111" >0</text>
<line x1="186.7" y1="325.23" x2="189.9" y2="325.23" stroke="#000" stroke-width="0.7" />
<text x="185.6" y="327.53" font-size="5.1" font-weight="bold" text-anchor="end" fill="#111" >50</text>
<line x1="186.7" y1="310.65" x2="189.9" y2="310.65" stroke="#000" stroke-width="0.7" />
<text x="185.6" y="312.95" font-size="5.1" font-weight="bold" text-anchor="end" fill="#111" >100</text>
<line x1="186.7" y1="296.08" x2="189.9" y2="296.08" stroke="#000" stroke-width="0.7" />
<text x="185.6" y="298.38" font-size="5.1" font-weight="bold" text-anchor="end" fill="#111" >150</text>
<line x1="186.7" y1="281.5" x2="189.9" y2="281.5" stroke="#000" stroke-width="0.7" />
<text x="185.6" y="283.8" font-size="5.1" font-weight="bold" text-anchor="end" fill="#111" >200</text>
<line x1="186.7" y1="266.93" x2="189.9" y2="266.93" stroke="#000" stroke-width="0.7" />
<text x="185.6" y="269.23" font-size="5.1" font-weight="bold" text-anchor="end" fill="#111" >250</text>
<text x="173.5" y="303" font-size="5.97" font-weight="bold" text-anchor="middle" fill="#111" transform="rotate(-90 173.5 303)" >OCR (pmol/min)</text>
<line x1="199.45" y1="296.95" x2="199.45" y2="299.86" stroke="#000" stroke-width="0.8" />
<line x1="197.15" y1="296.95" x2="201.75" y2="296.95" stroke="#000" stroke-width="0.8" />
<rect x="194.85" y="300.06" width="9.2" height="39.74" fill="#000" stroke="#000" stroke-width="0.9" />
<line x1="199.45" y1="339.8" x2="199.45" y2="342.5" stroke="#000" stroke-width="0.75" />
<text x="201.35" y="347.7" font-size="5.6" font-weight="bold" text-anchor="end" fill="#111" transform="rotate(-45 201.35 347.7)" >Control</text>
<line x1="214.95" y1="279.46" x2="214.95" y2="284.12" stroke="#000" stroke-width="0.8" />
<line x1="212.65" y1="279.46" x2="217.25" y2="279.46" stroke="#000" stroke-width="0.8" />
<rect x="210.35" y="284.32" width="9.2" height="55.48" fill="#a9a9b1" stroke="#000" stroke-width="0.9" />
<line x1="214.95" y1="339.8" x2="214.95" y2="342.5" stroke="#000" stroke-width="0.75" />
<text x="216.85" y="347.7" font-size="5.6" font-weight="bold" text-anchor="end" fill="#111" transform="rotate(-45 216.85 347.7)" >OE</text>
<line x1="230.45" y1="298.7" x2="230.45" y2="303.07" stroke="#000" stroke-width="0.8" />
<line x1="228.15" y1="298.7" x2="232.75" y2="298.7" stroke="#000" stroke-width="0.8" />
<rect x="225.85" y="303.27" width="9.2" height="36.53" fill="#8b8b8b" stroke="#000" stroke-width="0.9" />
<line x1="230.45" y1="339.8" x2="230.45" y2="342.5" stroke="#000" stroke-width="0.75" />
<text x="232.35" y="347.7" font-size="5.6" font-weight="bold" text-anchor="end" fill="#111" transform="rotate(-45 232.35 347.7)" >OE+shRNA</text>
<line x1="256.65" y1="301.03" x2="256.65" y2="304.53" stroke="#000" stroke-width="0.8" />
<line x1="254.35" y1="301.03" x2="258.95" y2="301.03" stroke="#000" stroke-width="0.8" />
<rect x="252.05" y="304.73" width="9.2" height="35.07" fill="#000" stroke="#000" stroke-width="0.9" />
<line x1="256.65" y1="339.8" x2="256.65" y2="342.5" stroke="#000" stroke-width="0.75" />
<text x="258.55" y="347.7" font-size="5.6" font-weight="bold" text-anchor="end" fill="#111" transform="rotate(-45 258.55 347.7)" >Control</text>
<line x1="272.15" y1="290.54" x2="272.15" y2="294.62" stroke="#000" stroke-width="0.8" />
<line x1="269.85" y1="290.54" x2="274.45" y2="290.54" stroke="#000" stroke-width="0.8" />
<rect x="267.55" y="294.82" width="9.2" height="44.98" fill="#a9a9b1" stroke="#000" stroke-width="0.9" />
<line x1="272.15" y1="339.8" x2="272.15" y2="342.5" stroke="#000" stroke-width="0.75" />
<text x="274.05" y="347.7" font-size="5.6" font-weight="bold" text-anchor="end" fill="#111" transform="rotate(-45 274.05 347.7)" >OE</text>
<line x1="287.65" y1="303.36" x2="287.65" y2="306.86" stroke="#000" stroke-width="0.8" />
<line x1="285.35" y1="303.36" x2="289.95" y2="303.36" stroke="#000" stroke-width="0.8" />
<rect x="283.05" y="307.06" width="9.2" height="32.74" fill="#8b8b8b" stroke="#000" stroke-width="0.9" />
<line x1="287.65" y1="339.8" x2="287.65" y2="342.5" stroke="#000" stroke-width="0.75" />
<text x="289.55" y="347.7" font-size="5.6" font-weight="bold" text-anchor="end" fill="#111" transform="rotate(-45 289.55 347.7)" >OE+shRNA</text>
<text x="216" y="265.7" font-size="7.9" font-weight="bold" text-anchor="middle" fill="#111" >H1560</text>
<text x="277.7" y="271.1" font-size="7.9" font-weight="bold" text-anchor="middle" fill="#111" >A549</text>
<polyline points="200.4,276.8 200.4,273.4 215.6,273.4 215.6,276.8" fill="none" stroke="#000" stroke-width="0.8" stroke-linejoin="round"/>
<text x="207.5" y="273.3" font-size="7" font-weight="bold" text-anchor="middle" fill="#111" class="st">**</text>
<polyline points="218.6,276.8 218.6,273.4 232.8,273.4 232.8,276.8" fill="none" stroke="#000" stroke-width="0.8" stroke-linejoin="round"/>
<text x="225.5" y="273.3" font-size="7" font-weight="bold" text-anchor="middle" fill="#111" class="st">**</text>
<polyline points="255.9,287.5 255.9,283.9 270.4,283.9 270.4,287.5" fill="none" stroke="#000" stroke-width="0.8" stroke-linejoin="round"/>
<text x="262.8" y="284.2" font-size="7" font-weight="bold" text-anchor="middle" fill="#111" class="st">**</text>
<polyline points="273.1,287.5 273.1,283.9 288.6,283.9 288.6,287.5" fill="none" stroke="#000" stroke-width="0.8" stroke-linejoin="round"/>
<text x="280.5" y="284.2" font-size="7" font-weight="bold" text-anchor="middle" fill="#111" class="st">**</text>
<text x="310.2" y="260.2" font-size="9.6" font-weight="normal" text-anchor="start" fill="#111" class="pl">I</text>
<rect x="346.6" y="272.4" width="98.3" height="17.8" fill="#b3b3b3"/>
<rect x="346.6" y="272.4" width="98.3" height="17.8" fill="url(#bg)"/>
<ellipse cx="357.8" cy="281.6" rx="8.35" ry="1.94" fill="#202020" opacity="0.95" filter="url(#blur)"/>
<ellipse cx="376.8" cy="281.9" rx="6.85" ry="1.31" fill="#202020" opacity="0.8" filter="url(#blur)"/>
<ellipse cx="396.3" cy="281" rx="8.35" ry="1.88" fill="#202020" opacity="0.95" filter="url(#blur)"/>
<ellipse cx="415.6" cy="280.8" rx="6.35" ry="1.08" fill="#202020" opacity="0.7" filter="url(#blur)"/>
<ellipse cx="434.3" cy="280.2" rx="7.35" ry="1.42" fill="#202020" opacity="0.88" filter="url(#blur)"/>
<rect x="346.6" y="298.3" width="98.3" height="18.6" fill="#b2b2b2"/>
<rect x="346.6" y="298.3" width="98.3" height="18.6" fill="url(#bg)"/>
<ellipse cx="357.8" cy="306.4" rx="8.35" ry="2.05" fill="#202020" opacity="0.93" filter="url(#blur)"/>
<ellipse cx="357.8" cy="309.6" rx="6.6" ry="1.03" fill="#202020" opacity="0.35" filter="url(#blur)"/>
<ellipse cx="376.8" cy="307" rx="6.35" ry="1.25" fill="#202020" opacity="0.6" filter="url(#blur)"/>
<ellipse cx="376.8" cy="309.6" rx="5.1" ry="0.8" fill="#202020" opacity="0.2" filter="url(#blur)"/>
<ellipse cx="396.3" cy="305.9" rx="8.35" ry="1.99" fill="#202020" opacity="0.93" filter="url(#blur)"/>
<ellipse cx="396.3" cy="309.2" rx="6.1" ry="0.8" fill="#202020" opacity="0.2" filter="url(#blur)"/>
<ellipse cx="415.6" cy="306.4" rx="5.85" ry="1.03" fill="#202020" opacity="0.4" filter="url(#blur)"/>
<ellipse cx="434.3" cy="305.7" rx="7.35" ry="1.6" fill="#202020" opacity="0.85" filter="url(#blur)"/>
<ellipse cx="434.3" cy="308.8" rx="6.1" ry="0.91" fill="#202020" opacity="0.3" filter="url(#blur)"/>
<rect x="346.6" y="325" width="98.3" height="20.4" fill="#b0b0b0"/>
<rect x="346.6" y="325" width="98.3" height="20.4" fill="url(#bg)"/>
<ellipse cx="358.2" cy="334.3" rx="9.3" ry="2.56" fill="#202020" opacity="0.95" filter="url(#blur)"/>
<ellipse cx="377.4" cy="334.3" rx="9.3" ry="2.56" fill="#202020" opacity="0.95" filter="url(#blur)"/>
<ellipse cx="396.3" cy="334.3" rx="9.3" ry="2.56" fill="#202020" opacity="0.95" filter="url(#blur)"/>
<ellipse cx="415.6" cy="334.3" rx="9.3" ry="2.56" fill="#202020" opacity="0.95" filter="url(#blur)"/>
<ellipse cx="434.1" cy="334.3" rx="9.1" ry="2.56" fill="#202020" opacity="0.95" filter="url(#blur)"/>
<rect x="487.5" y="269.1" width="57" height="15.6" fill="#b6b6b6"/>
<rect x="487.5" y="269.1" width="57" height="15.6" fill="url(#bg)"/>
<ellipse cx="496.6" cy="276.6" rx="6.85" ry="1.37" fill="#202020" opacity="0.85" filter="url(#blur)"/>
<ellipse cx="515.8" cy="276.1" rx="8.35" ry="2.05" fill="#202020" opacity="0.95" filter="url(#blur)"/>
<ellipse cx="534.4" cy="276.5" rx="6.1" ry="1.08" fill="#202020" opacity="0.55" filter="url(#blur)"/>
<rect x="487.5" y="296.3" width="57" height="14.3" fill="#b4b4b4"/>
<rect x="487.5" y="296.3" width="57" height="14.3" fill="url(#bg)"/>
<ellipse cx="496.6" cy="302.4" rx="6.85" ry="1.31" fill="#202020" opacity="0.82" filter="url(#blur)"/>
<ellipse cx="515.8" cy="301.8" rx="8.35" ry="1.88" fill="#202020" opacity="0.95" filter="url(#blur)"/>
<ellipse cx="534.4" cy="302.4" rx="6.35" ry="1.2" fill="#202020" opacity="0.65" filter="url(#blur)"/>
<rect x="487.5" y="318.6" width="57" height="17.2" fill="#b0b0b0"/>
<rect x="487.5" y="318.6" width="57" height="17.2" fill="url(#bg)"/>
<ellipse cx="497.4" cy="327" rx="8.8" ry="2.56" fill="#202020" opacity="0.95" filter="url(#blur)"/>
<ellipse cx="515.8" cy="327" rx="8.8" ry="2.56" fill="#202020" opacity="0.95" filter="url(#blur)"/>
<ellipse cx="534.4" cy="326.6" rx="8.8" ry="2.56" fill="#202020" opacity="0.95" filter="url(#blur)"/>
<text x="342.9" y="283.3" font-size="8.6" font-weight="bold" text-anchor="end" fill="#111" textLength="21.7" lengthAdjust="spacingAndGlyphs">GPC4</text>
<text x="342.9" y="311" font-size="8.6" font-weight="bold" text-anchor="end" fill="#111" textLength="24.8" lengthAdjust="spacingAndGlyphs">GLUT1</text>
<text x="342.9" y="337.5" font-size="8.6" font-weight="bold" text-anchor="end" fill="#111" textLength="27.8" lengthAdjust="spacingAndGlyphs">GAPDH</text>
<text x="484" y="279.6" font-size="8.6" font-weight="bold" text-anchor="end" fill="#111" textLength="22.8" lengthAdjust="spacingAndGlyphs">GPC4</text>
<text x="484" y="307.4" font-size="8.6" font-weight="bold" text-anchor="end" fill="#111" textLength="24.8" lengthAdjust="spacingAndGlyphs">GLUT1</text>
<text x="484.4" y="332.8" font-size="8.6" font-weight="bold" text-anchor="end" fill="#111" textLength="27.4" lengthAdjust="spacingAndGlyphs">GAPDH</text>
<text x="360.4" y="356.5" font-size="5.8" font-weight="bold" text-anchor="end" fill="#111" transform="rotate(-45 360.4 356.5)" >Control</text>
<text x="380.4" y="356.5" font-size="5.8" font-weight="bold" text-anchor="end" fill="#111" transform="rotate(-45 380.4 356.5)" >KD</text>
<text x="400.9" y="356.5" font-size="5.8" font-weight="bold" text-anchor="end" fill="#111" transform="rotate(-45 400.9 356.5)" >KD+HS3ST1 WT</text>
<text x="421.2" y="356.5" font-size="5.8" font-weight="bold" text-anchor="end" fill="#111" transform="rotate(-45 421.2 356.5)" >KD+E86A mutant</text>
<text x="441.6" y="356.5" font-size="5.8" font-weight="bold" text-anchor="end" fill="#111" transform="rotate(-45 441.6 356.5)" >KD+K119A mutant</text>
<text x="505.5" y="349" font-size="5.8" font-weight="bold" text-anchor="end" fill="#111" transform="rotate(-45 505.5 349)" >Control</text>
<text x="521" y="349" font-size="5.8" font-weight="bold" text-anchor="end" fill="#111" transform="rotate(-45 521 349)" >OE</text>
<text x="537.6" y="349" font-size="5.8" font-weight="bold" text-anchor="end" fill="#111" transform="rotate(-45 537.6 349)" >OE+shRNA</text>
</svg>
</body></html>
